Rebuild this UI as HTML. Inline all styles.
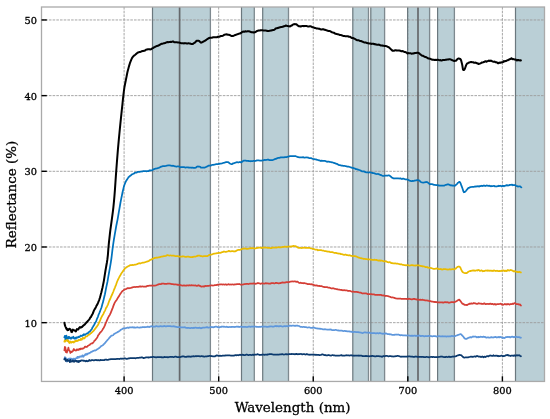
<!DOCTYPE html>
<html><head><meta charset="utf-8"><title>Reflectance spectra</title>
<style>html,body{margin:0;padding:0;background:#fff;}body{width:550px;height:419px;overflow:hidden;}svg{display:block;}</style>
</head><body>
<svg width="550" height="419" viewBox="0 0 550 419"><rect width="550" height="419" fill="#fff"/><g fill="#bacfd6"><rect x="152.50" y="7.0" width="27.10" height="374.45"/><rect x="179.60" y="7.0" width="30.80" height="374.45"/><rect x="241.50" y="7.0" width="12.80" height="374.45"/><rect x="262.70" y="7.0" width="25.80" height="374.45"/><rect x="352.80" y="7.0" width="15.70" height="374.45"/><rect x="370.80" y="7.0" width="13.80" height="374.45"/><rect x="407.60" y="7.0" width="10.40" height="374.45"/><rect x="418.00" y="7.0" width="11.60" height="374.45"/><rect x="437.60" y="7.0" width="16.80" height="374.45"/><rect x="515.50" y="7.0" width="29.00" height="374.45"/></g><g stroke="#9c9c9c" stroke-width="0.9" stroke-dasharray="2.6 1.1" fill="none"><line x1="124.10" y1="7.0" x2="124.10" y2="381.45"/><line x1="218.67" y1="7.0" x2="218.67" y2="381.45"/><line x1="313.25" y1="7.0" x2="313.25" y2="381.45"/><line x1="407.82" y1="7.0" x2="407.82" y2="381.45"/><line x1="502.40" y1="7.0" x2="502.40" y2="381.45"/><line x1="41.5" y1="322.66" x2="544.5" y2="322.66"/><line x1="41.5" y1="246.99" x2="544.5" y2="246.99"/><line x1="41.5" y1="171.31" x2="544.5" y2="171.31"/><line x1="41.5" y1="95.63" x2="544.5" y2="95.63"/><line x1="41.5" y1="19.96" x2="544.5" y2="19.96"/></g><g stroke="#6b787e" stroke-width="1.2"><line x1="152.50" y1="7.0" x2="152.50" y2="381.45"/><line x1="241.50" y1="7.0" x2="241.50" y2="381.45"/><line x1="262.70" y1="7.0" x2="262.70" y2="381.45"/><line x1="352.80" y1="7.0" x2="352.80" y2="381.45"/><line x1="370.80" y1="7.0" x2="370.80" y2="381.45"/><line x1="407.60" y1="7.0" x2="407.60" y2="381.45"/><line x1="437.60" y1="7.0" x2="437.60" y2="381.45"/><line x1="515.50" y1="7.0" x2="515.50" y2="381.45"/></g><g stroke="#7e898f" stroke-width="1.3"><line x1="210.40" y1="7.0" x2="210.40" y2="381.45"/><line x1="254.30" y1="7.0" x2="254.30" y2="381.45"/><line x1="288.50" y1="7.0" x2="288.50" y2="381.45"/><line x1="368.50" y1="7.0" x2="368.50" y2="381.45"/><line x1="384.60" y1="7.0" x2="384.60" y2="381.45"/><line x1="429.60" y1="7.0" x2="429.60" y2="381.45"/><line x1="454.40" y1="7.0" x2="454.40" y2="381.45"/></g><g stroke="#65686c" stroke-width="1.7"><line x1="179.60" y1="7.0" x2="179.60" y2="381.45"/><line x1="418.00" y1="7.0" x2="418.00" y2="381.45"/></g><g fill="none" stroke-width="1.75" stroke-linejoin="round" stroke-linecap="round"><path stroke="#5E97DC" d="M64.4 358.9 L64.9 357.2 L65.4 359.9 L65.9 358.1 L66.4 359.6 L66.9 361.6 L67.4 360.2 L67.9 359.4 L68.4 358.7 L68.9 359.6 L69.4 359.7 L69.9 358.4 L70.4 359.8 L70.9 358.6 L71.4 359.4 L71.9 358.8 L72.4 359.7 L72.9 359.4 L73.4 358.6 L73.9 358.6 L74.4 358.8 L74.9 359.3 L75.4 359.0 L75.9 358.3 L76.4 358.1 L76.9 358.3 L77.4 356.9 L77.9 357.8 L78.4 357.0 L78.9 357.6 L79.4 356.6 L79.9 356.8 L80.4 356.3 L80.9 356.4 L81.4 356.6 L81.9 356.6 L82.4 355.3 L82.9 355.5 L83.4 356.8 L83.9 355.8 L84.4 355.3 L84.9 355.1 L85.4 354.1 L85.9 354.9 L86.4 354.3 L86.9 353.8 L87.4 354.3 L87.9 353.7 L88.4 353.3 L88.9 353.4 L89.4 353.1 L89.9 352.8 L90.4 352.6 L90.9 352.1 L91.4 351.8 L91.9 351.7 L92.4 351.4 L92.9 351.1 L93.4 350.9 L93.9 350.7 L94.4 350.6 L94.9 350.3 L95.4 350.5 L95.9 350.2 L96.4 349.9 L96.9 349.5 L97.4 349.0 L97.9 349.0 L98.4 348.5 L98.9 348.2 L99.4 347.8 L99.9 347.4 L100.4 346.9 L100.9 346.3 L101.4 346.0 L101.9 345.7 L102.4 345.5 L102.9 345.3 L103.4 344.6 L103.9 344.0 L104.4 343.7 L104.9 343.1 L105.4 342.5 L105.9 341.9 L106.4 341.3 L106.9 340.7 L107.4 340.1 L107.9 339.5 L108.4 339.0 L108.9 338.4 L109.4 337.8 L109.9 337.2 L110.4 336.8 L110.9 336.1 L111.4 335.7 L111.9 335.6 L112.4 335.5 L112.9 335.3 L113.4 334.8 L113.9 334.2 L114.4 333.8 L114.9 333.6 L115.4 333.3 L115.9 333.0 L116.4 332.8 L116.9 332.5 L117.4 332.1 L117.9 331.9 L118.4 331.7 L118.9 331.3 L119.4 331.0 L119.9 330.6 L120.4 330.1 L120.9 329.8 L121.4 329.5 L121.9 329.3 L122.4 328.9 L122.9 328.5 L123.4 328.4 L123.9 328.2 L124.4 328.3 L124.9 328.4 L125.4 328.3 L125.9 328.1 L126.4 328.0 L126.9 327.7 L127.4 327.5 L127.9 327.6 L128.4 327.9 L128.9 327.8 L129.4 327.4 L129.9 327.4 L130.4 327.4 L130.9 327.3 L131.4 327.4 L131.9 327.4 L132.4 327.3 L132.9 327.2 L133.4 327.4 L133.9 327.6 L134.4 327.4 L134.9 327.6 L135.4 327.6 L135.9 327.6 L136.4 327.5 L136.9 327.3 L137.4 327.2 L137.9 327.4 L138.4 327.5 L138.9 327.6 L139.4 327.6 L139.9 327.6 L140.4 327.4 L140.9 327.3 L141.4 327.3 L141.9 327.3 L142.4 327.2 L142.9 327.0 L143.4 327.1 L143.9 327.1 L144.4 327.3 L144.9 327.1 L145.4 327.1 L145.9 327.0 L146.4 327.0 L146.9 326.9 L147.4 326.7 L147.9 326.6 L148.4 326.9 L148.9 327.0 L149.4 327.0 L149.9 326.7 L150.4 326.6 L150.9 326.4 L151.4 326.2 L151.9 326.3 L152.4 326.5 L152.9 326.6 L153.4 326.8 L153.9 326.6 L154.4 326.6 L154.9 326.7 L155.4 326.4 L155.9 326.2 L156.4 326.1 L156.9 326.2 L157.4 326.4 L157.9 326.5 L158.4 326.5 L158.9 326.4 L159.4 326.5 L159.9 326.3 L160.4 326.2 L160.9 326.2 L161.4 326.3 L161.9 326.4 L162.4 326.3 L162.9 326.3 L163.4 326.3 L163.9 326.0 L164.4 325.9 L164.9 326.2 L165.4 326.3 L165.9 326.3 L166.4 326.3 L166.9 326.2 L167.4 326.2 L167.9 326.2 L168.4 326.2 L168.9 326.1 L169.4 326.1 L169.9 326.1 L170.4 326.2 L170.9 326.3 L171.4 326.4 L171.9 326.4 L172.4 326.4 L172.9 326.4 L173.4 326.2 L173.9 326.3 L174.4 326.4 L174.9 326.6 L175.4 326.7 L175.9 326.8 L176.4 326.8 L176.9 327.0 L177.4 327.0 L177.9 327.0 L178.4 327.2 L178.9 327.2 L179.4 327.1 L179.9 327.2 L180.4 327.3 L180.9 327.3 L181.4 327.3 L181.9 327.3 L182.4 327.3 L182.9 327.3 L183.4 327.4 L183.9 327.4 L184.4 327.3 L184.9 327.2 L185.4 327.5 L185.9 327.8 L186.4 327.9 L186.9 327.9 L187.4 328.0 L187.9 327.8 L188.4 327.8 L188.9 327.9 L189.4 328.0 L189.9 328.0 L190.4 328.0 L190.9 328.0 L191.4 327.8 L191.9 327.8 L192.4 328.0 L192.9 328.1 L193.4 327.9 L193.9 327.7 L194.4 327.8 L194.9 327.8 L195.4 327.6 L195.9 327.7 L196.4 327.8 L196.9 327.9 L197.4 328.0 L197.9 327.9 L198.4 328.0 L198.9 327.8 L199.4 327.7 L199.9 327.8 L200.4 328.0 L200.9 328.3 L201.4 328.2 L201.9 327.9 L202.4 327.8 L202.9 327.6 L203.4 327.5 L203.9 327.5 L204.4 327.5 L204.9 327.6 L205.4 327.5 L205.9 327.4 L206.4 327.4 L206.9 327.1 L207.4 327.2 L207.9 327.5 L208.4 327.5 L208.9 327.6 L209.4 327.5 L209.9 327.3 L210.4 327.1 L210.9 326.9 L211.4 327.0 L211.9 327.3 L212.4 327.2 L212.9 327.2 L213.4 327.3 L213.9 327.2 L214.4 326.9 L214.9 326.8 L215.4 326.7 L215.9 326.6 L216.4 326.7 L216.9 326.8 L217.4 326.9 L217.9 327.2 L218.4 327.4 L218.9 327.6 L219.4 327.4 L219.9 327.0 L220.4 327.0 L220.9 326.8 L221.4 326.7 L221.9 326.8 L222.4 326.6 L222.9 326.6 L223.4 326.8 L223.9 326.7 L224.4 326.7 L224.9 326.9 L225.4 327.0 L225.9 326.9 L226.4 326.7 L226.9 326.8 L227.4 327.0 L227.9 327.2 L228.4 327.1 L228.9 327.1 L229.4 327.0 L229.9 326.9 L230.4 327.0 L230.9 327.1 L231.4 326.9 L231.9 326.9 L232.4 326.9 L232.9 326.8 L233.4 326.9 L233.9 327.0 L234.4 327.0 L234.9 326.8 L235.4 326.8 L235.9 326.8 L236.4 326.7 L236.9 326.6 L237.4 326.7 L237.9 326.8 L238.4 326.7 L238.9 326.8 L239.4 327.0 L239.9 326.8 L240.4 326.7 L240.9 326.7 L241.4 326.8 L241.9 327.1 L242.4 327.0 L242.9 326.8 L243.4 326.8 L243.9 326.8 L244.4 326.8 L244.9 326.8 L245.4 326.9 L245.9 326.9 L246.4 327.0 L246.9 327.1 L247.4 327.0 L247.9 326.8 L248.4 326.7 L248.9 326.6 L249.4 326.5 L249.9 326.7 L250.4 326.8 L250.9 326.8 L251.4 326.6 L251.9 326.6 L252.4 326.6 L252.9 326.5 L253.4 326.6 L253.9 326.6 L254.4 326.5 L254.9 326.5 L255.4 326.5 L255.9 326.5 L256.4 326.8 L256.9 326.9 L257.4 326.9 L257.9 326.8 L258.4 326.9 L258.9 327.0 L259.4 326.9 L259.9 326.7 L260.4 326.8 L260.9 326.8 L261.4 326.7 L261.9 326.7 L262.4 326.7 L262.9 326.6 L263.4 326.6 L263.9 326.7 L264.4 326.7 L264.9 326.7 L265.4 326.6 L265.9 326.6 L266.4 326.8 L266.9 326.9 L267.4 326.9 L267.9 326.9 L268.4 326.7 L268.9 326.6 L269.4 326.6 L269.9 326.4 L270.4 326.4 L270.9 326.5 L271.4 326.4 L271.9 326.5 L272.4 326.7 L272.9 326.6 L273.4 326.5 L273.9 326.5 L274.4 326.3 L274.9 326.2 L275.4 326.2 L275.9 326.0 L276.4 326.3 L276.9 326.2 L277.4 326.1 L277.9 326.3 L278.4 326.3 L278.9 326.2 L279.4 326.3 L279.9 326.2 L280.4 326.1 L280.9 326.0 L281.4 326.2 L281.9 326.4 L282.4 326.5 L282.9 326.5 L283.4 326.4 L283.9 326.3 L284.4 326.1 L284.9 326.2 L285.4 326.3 L285.9 326.2 L286.4 326.1 L286.9 326.1 L287.4 326.2 L287.9 326.3 L288.4 326.2 L288.9 326.0 L289.4 325.7 L289.9 325.6 L290.4 325.7 L290.9 325.8 L291.4 325.8 L291.9 325.7 L292.4 325.6 L292.9 325.7 L293.4 325.7 L293.9 325.6 L294.4 325.8 L294.9 325.9 L295.4 325.9 L295.9 325.6 L296.4 325.6 L296.9 325.8 L297.4 325.7 L297.9 325.7 L298.4 325.9 L298.9 326.0 L299.4 326.1 L299.9 326.5 L300.4 326.8 L300.9 326.9 L301.4 326.9 L301.9 326.9 L302.4 327.0 L302.9 327.0 L303.4 326.9 L303.9 326.8 L304.4 327.0 L304.9 327.0 L305.4 327.2 L305.9 327.2 L306.4 327.2 L306.9 327.4 L307.4 327.5 L307.9 327.5 L308.4 327.4 L308.9 327.3 L309.4 327.3 L309.9 327.5 L310.4 327.7 L310.9 327.9 L311.4 327.9 L311.9 327.8 L312.4 327.7 L312.9 327.8 L313.4 327.7 L313.9 327.6 L314.4 327.7 L314.9 328.0 L315.4 328.1 L315.9 328.3 L316.4 328.3 L316.9 328.3 L317.4 328.5 L317.9 328.7 L318.4 328.6 L318.9 328.7 L319.4 328.7 L319.9 328.8 L320.4 328.8 L320.9 328.7 L321.4 328.9 L321.9 329.0 L322.4 329.2 L322.9 329.3 L323.4 329.4 L323.9 329.3 L324.4 329.3 L324.9 329.2 L325.4 329.3 L325.9 329.4 L326.4 329.5 L326.9 329.6 L327.4 329.5 L327.9 329.5 L328.4 329.6 L328.9 329.6 L329.4 329.5 L329.9 329.7 L330.4 329.6 L330.9 329.4 L331.4 329.8 L331.9 330.1 L332.4 330.2 L332.9 330.1 L333.4 330.2 L333.9 330.1 L334.4 330.1 L334.9 330.0 L335.4 329.9 L335.9 329.9 L336.4 330.0 L336.9 330.2 L337.4 330.4 L337.9 330.3 L338.4 330.4 L338.9 330.6 L339.4 330.6 L339.9 330.7 L340.4 330.6 L340.9 330.6 L341.4 330.7 L341.9 330.7 L342.4 330.8 L342.9 331.0 L343.4 331.1 L343.9 331.0 L344.4 330.8 L344.9 330.9 L345.4 331.1 L345.9 331.0 L346.4 331.0 L346.9 331.3 L347.4 331.4 L347.9 331.3 L348.4 331.3 L348.9 331.3 L349.4 331.4 L349.9 331.6 L350.4 331.6 L350.9 331.8 L351.4 331.7 L351.9 331.8 L352.4 332.1 L352.9 332.1 L353.4 332.0 L353.9 332.0 L354.4 331.8 L354.9 331.8 L355.4 332.0 L355.9 332.1 L356.4 332.1 L356.9 332.2 L357.4 332.2 L357.9 332.1 L358.4 332.2 L358.9 332.3 L359.4 332.3 L359.9 332.4 L360.4 332.5 L360.9 332.5 L361.4 332.8 L361.9 333.0 L362.4 333.1 L362.9 333.0 L363.4 332.7 L363.9 332.5 L364.4 332.4 L364.9 332.3 L365.4 332.3 L365.9 332.6 L366.4 332.7 L366.9 332.6 L367.4 332.7 L367.9 332.6 L368.4 332.7 L368.9 332.6 L369.4 332.6 L369.9 332.9 L370.4 333.0 L370.9 333.0 L371.4 333.0 L371.9 333.0 L372.4 333.1 L372.9 333.1 L373.4 333.1 L373.9 333.0 L374.4 333.1 L374.9 333.2 L375.4 333.3 L375.9 333.3 L376.4 333.3 L376.9 333.2 L377.4 333.1 L377.9 333.3 L378.4 333.5 L378.9 333.4 L379.4 333.0 L379.9 333.1 L380.4 333.2 L380.9 333.3 L381.4 333.5 L381.9 333.6 L382.4 333.7 L382.9 333.8 L383.4 333.7 L383.9 333.7 L384.4 333.7 L384.9 333.6 L385.4 333.4 L385.9 333.4 L386.4 333.6 L386.9 333.8 L387.4 334.0 L387.9 334.0 L388.4 334.1 L388.9 334.2 L389.4 334.3 L389.9 334.2 L390.4 334.3 L390.9 334.3 L391.4 334.5 L391.9 334.8 L392.4 334.8 L392.9 334.8 L393.4 334.8 L393.9 334.9 L394.4 334.9 L394.9 334.6 L395.4 334.7 L395.9 334.6 L396.4 334.5 L396.9 334.6 L397.4 334.7 L397.9 334.6 L398.4 334.5 L398.9 334.7 L399.4 334.9 L399.9 335.2 L400.4 335.3 L400.9 335.2 L401.4 335.1 L401.9 335.1 L402.4 335.3 L402.9 335.3 L403.4 335.3 L403.9 335.4 L404.4 335.3 L404.9 335.3 L405.4 335.3 L405.9 335.5 L406.4 335.5 L406.9 335.4 L407.4 335.4 L407.9 335.4 L408.4 335.5 L408.9 335.7 L409.4 335.7 L409.9 335.7 L410.4 335.8 L410.9 335.8 L411.4 335.7 L411.9 335.8 L412.4 335.7 L412.9 335.8 L413.4 335.8 L413.9 335.7 L414.4 335.5 L414.9 335.5 L415.4 335.9 L415.9 336.0 L416.4 335.8 L416.9 335.7 L417.4 335.8 L417.9 335.7 L418.4 335.8 L418.9 335.6 L419.4 335.5 L419.9 335.6 L420.4 336.0 L420.9 336.0 L421.4 336.0 L421.9 335.8 L422.4 335.8 L422.9 335.9 L423.4 336.0 L423.9 336.3 L424.4 336.3 L424.9 336.2 L425.4 336.0 L425.9 336.1 L426.4 336.2 L426.9 336.2 L427.4 336.2 L427.9 336.1 L428.4 335.9 L428.9 335.9 L429.4 336.0 L429.9 335.9 L430.4 336.0 L430.9 336.2 L431.4 336.2 L431.9 336.3 L432.4 336.3 L432.9 336.3 L433.4 336.1 L433.9 336.1 L434.4 336.1 L434.9 336.2 L435.4 336.2 L435.9 336.3 L436.4 336.6 L436.9 336.5 L437.4 336.3 L437.9 336.3 L438.4 336.2 L438.9 336.1 L439.4 336.2 L439.9 336.3 L440.4 336.4 L440.9 336.3 L441.4 336.3 L441.9 336.3 L442.4 336.2 L442.9 336.4 L443.4 336.3 L443.9 336.3 L444.4 336.4 L444.9 336.4 L445.4 336.3 L445.9 336.4 L446.4 336.6 L446.9 336.5 L447.4 336.4 L447.9 336.4 L448.4 336.5 L448.9 336.4 L449.4 336.3 L449.9 336.3 L450.4 336.4 L450.9 336.3 L451.4 336.0 L451.9 335.9 L452.4 336.0 L452.9 336.0 L453.4 336.0 L453.9 336.2 L454.4 336.4 L454.9 336.2 L455.4 336.0 L455.9 335.7 L456.4 335.5 L456.9 335.4 L457.4 335.2 L457.9 334.9 L458.4 334.8 L458.9 334.7 L459.4 334.5 L459.9 334.3 L460.4 334.1 L460.9 334.3 L461.4 334.6 L461.9 335.2 L462.4 335.6 L462.9 336.2 L463.4 336.8 L463.9 337.5 L464.4 338.2 L464.9 338.6 L465.4 338.8 L465.9 338.9 L466.4 338.9 L466.9 338.6 L467.4 338.5 L467.9 338.1 L468.4 337.8 L468.9 337.7 L469.4 337.6 L469.9 337.3 L470.4 337.1 L470.9 337.4 L471.4 337.5 L471.9 337.2 L472.4 336.7 L472.9 336.6 L473.4 336.8 L473.9 336.5 L474.4 336.5 L474.9 336.6 L475.4 336.5 L475.9 336.7 L476.4 337.2 L476.9 337.4 L477.4 337.1 L477.9 337.0 L478.4 337.3 L478.9 336.9 L479.4 337.2 L479.9 337.0 L480.4 336.7 L480.9 336.8 L481.4 336.8 L481.9 337.0 L482.4 337.1 L482.9 336.8 L483.4 336.7 L483.9 336.7 L484.4 337.0 L484.9 336.9 L485.4 337.1 L485.9 337.5 L486.4 337.7 L486.9 337.6 L487.4 337.3 L487.9 337.4 L488.4 337.4 L488.9 337.6 L489.4 337.7 L489.9 337.7 L490.4 337.5 L490.9 337.2 L491.4 337.1 L491.9 337.4 L492.4 337.5 L492.9 337.3 L493.4 337.5 L493.9 337.3 L494.4 337.2 L494.9 337.1 L495.4 336.9 L495.9 337.0 L496.4 337.5 L496.9 337.3 L497.4 337.3 L497.9 337.2 L498.4 336.9 L498.9 337.3 L499.4 337.3 L499.9 336.8 L500.4 337.1 L500.9 337.1 L501.4 337.2 L501.9 337.8 L502.4 338.0 L502.9 337.5 L503.4 337.6 L503.9 338.0 L504.4 338.0 L504.9 337.7 L505.4 337.4 L505.9 337.1 L506.4 337.0 L506.9 337.1 L507.4 336.9 L507.9 337.0 L508.4 337.0 L508.9 336.8 L509.4 336.9 L509.9 337.3 L510.4 337.4 L510.9 337.1 L511.4 336.7 L511.9 336.9 L512.4 336.7 L512.9 336.7 L513.4 337.0 L513.9 337.3 L514.4 337.1 L514.9 336.9 L515.4 336.8 L515.9 336.7 L516.4 336.8 L516.9 337.0 L517.4 337.1 L517.9 337.2 L518.4 337.2 L518.9 337.1 L519.4 337.1 L519.9 337.5 L520.4 337.8 L520.9 337.6"/><path stroke="#0B3A6E" d="M64.4 359.4 L64.9 358.3 L65.4 359.0 L65.9 361.0 L66.4 360.5 L66.9 360.7 L67.4 359.7 L67.9 361.0 L68.4 360.7 L68.9 360.7 L69.4 360.6 L69.9 362.2 L70.4 359.8 L70.9 360.9 L71.4 361.2 L71.9 361.7 L72.4 361.1 L72.9 360.3 L73.4 361.0 L73.9 361.9 L74.4 361.6 L74.9 360.6 L75.4 360.8 L75.9 360.7 L76.4 361.6 L76.9 360.8 L77.4 361.6 L77.9 361.9 L78.4 361.0 L78.9 362.0 L79.4 361.1 L79.9 360.9 L80.4 361.2 L80.9 360.5 L81.4 360.6 L81.9 360.3 L82.4 360.5 L82.9 360.7 L83.4 360.5 L83.9 361.0 L84.4 360.8 L84.9 360.7 L85.4 361.3 L85.9 361.3 L86.4 360.7 L86.9 361.2 L87.4 361.3 L87.9 361.0 L88.4 361.0 L88.9 360.4 L89.4 360.0 L89.9 360.6 L90.4 360.5 L90.9 360.6 L91.4 360.2 L91.9 360.2 L92.4 360.1 L92.9 360.2 L93.4 360.3 L93.9 360.3 L94.4 360.3 L94.9 360.0 L95.4 360.0 L95.9 359.9 L96.4 360.1 L96.9 360.3 L97.4 360.3 L97.9 360.0 L98.4 360.0 L98.9 360.4 L99.4 360.3 L99.9 360.3 L100.4 359.9 L100.9 360.1 L101.4 360.0 L101.9 360.0 L102.4 360.1 L102.9 360.1 L103.4 360.1 L103.9 360.1 L104.4 360.1 L104.9 359.7 L105.4 359.6 L105.9 359.6 L106.4 359.6 L106.9 359.9 L107.4 359.9 L107.9 359.9 L108.4 359.7 L108.9 359.4 L109.4 359.4 L109.9 359.4 L110.4 359.2 L110.9 359.2 L111.4 359.2 L111.9 359.1 L112.4 359.2 L112.9 359.2 L113.4 359.2 L113.9 359.2 L114.4 359.2 L114.9 359.2 L115.4 359.2 L115.9 359.2 L116.4 359.0 L116.9 358.8 L117.4 358.9 L117.9 359.0 L118.4 358.9 L118.9 359.0 L119.4 359.1 L119.9 358.8 L120.4 358.7 L120.9 358.7 L121.4 358.7 L121.9 358.8 L122.4 358.7 L122.9 358.6 L123.4 358.5 L123.9 358.5 L124.4 358.4 L124.9 358.3 L125.4 358.4 L125.9 358.7 L126.4 358.8 L126.9 358.8 L127.4 358.8 L127.9 358.6 L128.4 358.4 L128.9 358.3 L129.4 358.3 L129.9 358.2 L130.4 358.2 L130.9 358.2 L131.4 358.1 L131.9 358.2 L132.4 358.2 L132.9 358.2 L133.4 358.2 L133.9 358.2 L134.4 358.2 L134.9 358.2 L135.4 358.3 L135.9 358.2 L136.4 358.0 L136.9 357.9 L137.4 357.9 L137.9 357.9 L138.4 357.9 L138.9 357.8 L139.4 357.7 L139.9 357.5 L140.4 357.5 L140.9 357.6 L141.4 357.4 L141.9 357.4 L142.4 357.4 L142.9 357.7 L143.4 358.1 L143.9 357.9 L144.4 358.0 L144.9 357.9 L145.4 357.5 L145.9 357.4 L146.4 357.4 L146.9 357.4 L147.4 357.3 L147.9 357.4 L148.4 357.6 L148.9 357.4 L149.4 357.4 L149.9 357.4 L150.4 357.2 L150.9 357.1 L151.4 357.1 L151.9 357.1 L152.4 357.1 L152.9 356.9 L153.4 356.9 L153.9 357.0 L154.4 357.1 L154.9 357.1 L155.4 357.2 L155.9 357.4 L156.4 357.3 L156.9 357.2 L157.4 357.1 L157.9 357.1 L158.4 357.1 L158.9 357.1 L159.4 357.0 L159.9 357.0 L160.4 357.0 L160.9 357.1 L161.4 357.3 L161.9 357.2 L162.4 357.3 L162.9 357.3 L163.4 357.3 L163.9 357.2 L164.4 356.9 L164.9 357.1 L165.4 357.2 L165.9 357.1 L166.4 357.1 L166.9 357.1 L167.4 357.1 L167.9 357.4 L168.4 357.2 L168.9 357.1 L169.4 357.0 L169.9 356.9 L170.4 356.9 L170.9 356.9 L171.4 357.0 L171.9 356.9 L172.4 356.9 L172.9 357.0 L173.4 357.0 L173.9 357.0 L174.4 356.9 L174.9 356.7 L175.4 356.6 L175.9 356.7 L176.4 356.8 L176.9 357.0 L177.4 357.2 L177.9 357.2 L178.4 357.1 L178.9 357.0 L179.4 357.1 L179.9 357.0 L180.4 357.0 L180.9 356.8 L181.4 356.7 L181.9 356.6 L182.4 356.4 L182.9 356.3 L183.4 356.4 L183.9 356.4 L184.4 356.7 L184.9 356.8 L185.4 356.8 L185.9 356.9 L186.4 356.9 L186.9 356.6 L187.4 356.5 L187.9 356.7 L188.4 356.6 L188.9 356.4 L189.4 356.6 L189.9 356.7 L190.4 356.7 L190.9 356.8 L191.4 356.6 L191.9 356.4 L192.4 356.4 L192.9 356.3 L193.4 356.2 L193.9 356.3 L194.4 356.3 L194.9 356.3 L195.4 356.2 L195.9 356.2 L196.4 356.3 L196.9 356.1 L197.4 356.1 L197.9 356.2 L198.4 356.2 L198.9 356.1 L199.4 356.2 L199.9 356.4 L200.4 356.4 L200.9 356.3 L201.4 356.1 L201.9 356.1 L202.4 356.3 L202.9 356.4 L203.4 356.4 L203.9 356.6 L204.4 356.5 L204.9 356.5 L205.4 356.4 L205.9 356.5 L206.4 356.4 L206.9 356.5 L207.4 356.3 L207.9 356.1 L208.4 356.0 L208.9 356.0 L209.4 355.8 L209.9 355.8 L210.4 356.0 L210.9 356.2 L211.4 356.2 L211.9 356.0 L212.4 356.2 L212.9 356.4 L213.4 356.4 L213.9 356.4 L214.4 356.3 L214.9 356.4 L215.4 356.1 L215.9 355.7 L216.4 355.4 L216.9 355.4 L217.4 355.6 L217.9 355.6 L218.4 355.7 L218.9 355.9 L219.4 355.7 L219.9 355.8 L220.4 355.8 L220.9 355.7 L221.4 355.9 L221.9 355.8 L222.4 355.7 L222.9 355.7 L223.4 355.6 L223.9 355.6 L224.4 355.7 L224.9 355.7 L225.4 355.4 L225.9 355.4 L226.4 355.5 L226.9 355.4 L227.4 355.4 L227.9 355.4 L228.4 355.3 L228.9 355.4 L229.4 355.4 L229.9 355.4 L230.4 355.5 L230.9 355.5 L231.4 355.7 L231.9 355.7 L232.4 355.6 L232.9 355.7 L233.4 355.7 L233.9 355.6 L234.4 355.4 L234.9 355.3 L235.4 355.2 L235.9 355.2 L236.4 355.3 L236.9 355.2 L237.4 355.1 L237.9 355.2 L238.4 355.3 L238.9 355.1 L239.4 355.0 L239.9 354.7 L240.4 354.8 L240.9 355.1 L241.4 355.0 L241.9 354.9 L242.4 354.7 L242.9 354.7 L243.4 354.9 L243.9 355.1 L244.4 355.2 L244.9 355.2 L245.4 355.0 L245.9 354.7 L246.4 354.5 L246.9 354.6 L247.4 354.8 L247.9 355.0 L248.4 355.0 L248.9 355.0 L249.4 354.8 L249.9 354.8 L250.4 354.8 L250.9 354.9 L251.4 355.0 L251.9 355.0 L252.4 354.9 L252.9 354.6 L253.4 354.7 L253.9 355.0 L254.4 354.8 L254.9 354.6 L255.4 354.6 L255.9 354.7 L256.4 354.6 L256.9 354.5 L257.4 354.2 L257.9 354.2 L258.4 354.5 L258.9 354.7 L259.4 354.8 L259.9 355.0 L260.4 354.9 L260.9 354.9 L261.4 354.8 L261.9 354.7 L262.4 354.6 L262.9 354.8 L263.4 354.6 L263.9 354.7 L264.4 354.8 L264.9 354.8 L265.4 354.5 L265.9 354.5 L266.4 354.6 L266.9 354.8 L267.4 354.7 L267.9 354.3 L268.4 354.3 L268.9 354.3 L269.4 354.2 L269.9 354.2 L270.4 354.2 L270.9 354.2 L271.4 354.1 L271.9 354.3 L272.4 354.3 L272.9 354.5 L273.4 354.6 L273.9 354.6 L274.4 354.6 L274.9 354.7 L275.4 354.6 L275.9 354.6 L276.4 354.6 L276.9 354.6 L277.4 354.5 L277.9 354.6 L278.4 354.7 L278.9 354.7 L279.4 354.5 L279.9 354.3 L280.4 354.4 L280.9 354.4 L281.4 354.3 L281.9 354.2 L282.4 354.2 L282.9 354.3 L283.4 354.5 L283.9 354.6 L284.4 354.5 L284.9 354.4 L285.4 354.2 L285.9 354.2 L286.4 354.3 L286.9 354.2 L287.4 354.3 L287.9 354.3 L288.4 354.3 L288.9 354.2 L289.4 354.1 L289.9 354.0 L290.4 354.1 L290.9 354.2 L291.4 354.1 L291.9 353.9 L292.4 354.0 L292.9 354.1 L293.4 354.0 L293.9 354.1 L294.4 354.2 L294.9 354.3 L295.4 354.2 L295.9 353.9 L296.4 353.9 L296.9 354.1 L297.4 354.2 L297.9 354.3 L298.4 354.2 L298.9 354.2 L299.4 354.0 L299.9 354.1 L300.4 354.0 L300.9 353.9 L301.4 354.0 L301.9 354.3 L302.4 354.4 L302.9 354.2 L303.4 354.1 L303.9 354.2 L304.4 354.2 L304.9 354.3 L305.4 354.5 L305.9 354.6 L306.4 354.3 L306.9 354.0 L307.4 354.2 L307.9 354.5 L308.4 354.5 L308.9 354.6 L309.4 354.7 L309.9 354.8 L310.4 354.7 L310.9 354.6 L311.4 354.6 L311.9 354.7 L312.4 354.7 L312.9 354.7 L313.4 354.6 L313.9 354.6 L314.4 354.7 L314.9 354.8 L315.4 354.8 L315.9 354.7 L316.4 354.8 L316.9 354.8 L317.4 354.8 L317.9 354.8 L318.4 354.8 L318.9 355.0 L319.4 355.2 L319.9 355.1 L320.4 355.0 L320.9 354.9 L321.4 354.7 L321.9 354.4 L322.4 354.3 L322.9 354.4 L323.4 354.7 L323.9 354.9 L324.4 355.1 L324.9 355.1 L325.4 355.0 L325.9 355.3 L326.4 355.4 L326.9 355.3 L327.4 355.3 L327.9 355.2 L328.4 355.0 L328.9 355.1 L329.4 355.3 L329.9 355.4 L330.4 355.5 L330.9 355.5 L331.4 355.5 L331.9 355.3 L332.4 355.1 L332.9 355.2 L333.4 355.3 L333.9 355.3 L334.4 355.3 L334.9 355.5 L335.4 355.5 L335.9 355.5 L336.4 355.5 L336.9 355.6 L337.4 355.7 L337.9 355.7 L338.4 355.7 L338.9 355.6 L339.4 355.6 L339.9 355.5 L340.4 355.4 L340.9 355.3 L341.4 355.1 L341.9 355.4 L342.4 355.7 L342.9 355.7 L343.4 355.6 L343.9 355.7 L344.4 355.7 L344.9 355.6 L345.4 355.5 L345.9 355.3 L346.4 355.2 L346.9 355.4 L347.4 355.4 L347.9 355.3 L348.4 355.3 L348.9 355.4 L349.4 355.6 L349.9 355.5 L350.4 355.4 L350.9 355.2 L351.4 355.3 L351.9 355.4 L352.4 355.6 L352.9 355.6 L353.4 355.6 L353.9 355.8 L354.4 355.7 L354.9 355.6 L355.4 355.5 L355.9 355.5 L356.4 355.6 L356.9 355.6 L357.4 355.7 L357.9 355.6 L358.4 355.5 L358.9 355.8 L359.4 355.7 L359.9 355.6 L360.4 355.6 L360.9 355.6 L361.4 355.7 L361.9 355.8 L362.4 356.1 L362.9 356.2 L363.4 356.1 L363.9 356.1 L364.4 356.1 L364.9 356.2 L365.4 356.1 L365.9 355.9 L366.4 355.9 L366.9 356.2 L367.4 356.1 L367.9 356.1 L368.4 356.1 L368.9 356.3 L369.4 356.3 L369.9 356.2 L370.4 356.0 L370.9 356.0 L371.4 356.1 L371.9 355.9 L372.4 355.8 L372.9 356.1 L373.4 356.1 L373.9 356.1 L374.4 356.3 L374.9 356.3 L375.4 356.3 L375.9 356.3 L376.4 356.2 L376.9 356.0 L377.4 356.1 L377.9 356.2 L378.4 356.2 L378.9 356.1 L379.4 356.3 L379.9 356.3 L380.4 356.4 L380.9 356.3 L381.4 356.6 L381.9 356.8 L382.4 356.7 L382.9 356.2 L383.4 356.0 L383.9 356.2 L384.4 356.3 L384.9 356.2 L385.4 356.0 L385.9 355.8 L386.4 355.8 L386.9 355.8 L387.4 356.0 L387.9 356.2 L388.4 356.4 L388.9 356.3 L389.4 356.1 L389.9 356.1 L390.4 356.1 L390.9 356.2 L391.4 356.3 L391.9 356.3 L392.4 356.4 L392.9 356.5 L393.4 356.5 L393.9 356.4 L394.4 356.3 L394.9 356.3 L395.4 356.3 L395.9 356.1 L396.4 356.0 L396.9 356.0 L397.4 355.9 L397.9 355.9 L398.4 356.0 L398.9 356.1 L399.4 356.3 L399.9 356.5 L400.4 356.6 L400.9 356.8 L401.4 356.7 L401.9 356.7 L402.4 356.7 L402.9 356.7 L403.4 356.6 L403.9 356.6 L404.4 356.6 L404.9 356.6 L405.4 356.7 L405.9 356.7 L406.4 356.7 L406.9 356.6 L407.4 356.6 L407.9 356.4 L408.4 356.5 L408.9 356.4 L409.4 356.3 L409.9 356.4 L410.4 356.5 L410.9 356.5 L411.4 356.5 L411.9 356.5 L412.4 356.6 L412.9 356.8 L413.4 356.9 L413.9 356.9 L414.4 356.8 L414.9 356.7 L415.4 356.7 L415.9 356.5 L416.4 356.6 L416.9 356.7 L417.4 356.9 L417.9 356.9 L418.4 356.8 L418.9 356.7 L419.4 356.9 L419.9 356.9 L420.4 356.8 L420.9 356.8 L421.4 357.0 L421.9 356.9 L422.4 356.8 L422.9 356.8 L423.4 357.0 L423.9 357.2 L424.4 357.1 L424.9 357.1 L425.4 357.0 L425.9 357.0 L426.4 356.9 L426.9 356.9 L427.4 357.0 L427.9 357.1 L428.4 357.2 L428.9 357.3 L429.4 357.3 L429.9 357.1 L430.4 357.0 L430.9 356.9 L431.4 356.8 L431.9 357.0 L432.4 357.2 L432.9 356.9 L433.4 356.9 L433.9 357.0 L434.4 357.1 L434.9 357.1 L435.4 357.1 L435.9 357.1 L436.4 357.1 L436.9 357.0 L437.4 357.1 L437.9 357.2 L438.4 357.0 L438.9 356.9 L439.4 356.8 L439.9 356.8 L440.4 356.7 L440.9 356.7 L441.4 356.5 L441.9 356.6 L442.4 356.7 L442.9 356.8 L443.4 357.0 L443.9 357.1 L444.4 357.1 L444.9 357.0 L445.4 357.1 L445.9 356.9 L446.4 356.7 L446.9 356.9 L447.4 357.0 L447.9 357.0 L448.4 356.9 L448.9 356.6 L449.4 356.7 L449.9 357.0 L450.4 357.0 L450.9 356.8 L451.4 356.9 L451.9 356.8 L452.4 356.6 L452.9 356.5 L453.4 356.7 L453.9 356.6 L454.4 356.5 L454.9 356.4 L455.4 356.4 L455.9 356.3 L456.4 356.1 L456.9 355.7 L457.4 355.5 L457.9 355.3 L458.4 355.3 L458.9 355.0 L459.4 354.8 L459.9 355.1 L460.4 355.2 L460.9 355.2 L461.4 355.3 L461.9 355.9 L462.4 356.4 L462.9 356.8 L463.4 357.3 L463.9 357.6 L464.4 357.6 L464.9 357.5 L465.4 357.4 L465.9 357.4 L466.4 357.3 L466.9 357.4 L467.4 357.4 L467.9 357.4 L468.4 357.3 L468.9 357.1 L469.4 357.0 L469.9 356.9 L470.4 356.7 L470.9 356.7 L471.4 356.7 L471.9 356.8 L472.4 356.7 L472.9 356.9 L473.4 356.7 L473.9 356.5 L474.4 356.4 L474.9 356.5 L475.4 356.8 L475.9 356.6 L476.4 356.2 L476.9 355.9 L477.4 356.0 L477.9 356.3 L478.4 356.6 L478.9 356.6 L479.4 356.6 L479.9 356.5 L480.4 356.8 L480.9 357.1 L481.4 357.0 L481.9 356.6 L482.4 356.5 L482.9 356.9 L483.4 357.3 L483.9 357.0 L484.4 356.7 L484.9 356.6 L485.4 357.0 L485.9 356.7 L486.4 356.4 L486.9 356.2 L487.4 356.1 L487.9 356.3 L488.4 356.4 L488.9 356.1 L489.4 355.6 L489.9 355.6 L490.4 355.7 L490.9 355.5 L491.4 355.7 L491.9 355.9 L492.4 355.9 L492.9 355.9 L493.4 355.2 L493.9 355.5 L494.4 355.7 L494.9 355.9 L495.4 355.8 L495.9 355.6 L496.4 355.7 L496.9 355.8 L497.4 356.1 L497.9 355.7 L498.4 356.0 L498.9 356.3 L499.4 356.1 L499.9 356.1 L500.4 356.0 L500.9 355.8 L501.4 355.6 L501.9 355.8 L502.4 356.1 L502.9 356.3 L503.4 356.0 L503.9 356.2 L504.4 356.0 L504.9 355.8 L505.4 355.6 L505.9 355.4 L506.4 355.0 L506.9 355.0 L507.4 355.3 L507.9 355.0 L508.4 355.4 L508.9 355.6 L509.4 355.5 L509.9 355.5 L510.4 356.0 L510.9 355.7 L511.4 355.5 L511.9 355.5 L512.4 355.5 L512.9 355.6 L513.4 355.9 L513.9 355.7 L514.4 355.3 L514.9 355.7 L515.4 355.9 L515.9 355.7 L516.4 355.2 L516.9 355.4 L517.4 355.2 L517.9 355.5 L518.4 355.4 L518.9 355.2 L519.4 355.3 L519.9 355.7 L520.4 356.0 L520.9 356.3"/><path stroke="#D43E36" d="M64.4 350.4 L64.9 346.8 L65.4 347.7 L65.9 352.1 L66.4 350.5 L66.9 352.6 L67.4 350.4 L67.9 349.7 L68.4 347.7 L68.9 349.9 L69.4 350.9 L69.9 351.0 L70.4 353.0 L70.9 351.8 L71.4 351.6 L71.9 352.0 L72.4 351.4 L72.9 351.1 L73.4 349.9 L73.9 349.0 L74.4 350.1 L74.9 350.1 L75.4 350.5 L75.9 350.6 L76.4 350.1 L76.9 349.3 L77.4 349.8 L77.9 350.0 L78.4 349.3 L78.9 349.9 L79.4 349.1 L79.9 348.8 L80.4 349.2 L80.9 348.5 L81.4 348.9 L81.9 348.7 L82.4 348.4 L82.9 348.8 L83.4 348.2 L83.9 348.0 L84.4 347.6 L84.9 346.6 L85.4 346.6 L85.9 346.9 L86.4 346.8 L86.9 347.0 L87.4 346.5 L87.9 345.7 L88.4 345.5 L88.9 345.2 L89.4 345.0 L89.9 344.7 L90.4 344.0 L90.9 343.8 L91.4 343.5 L91.9 343.3 L92.4 343.3 L92.9 342.8 L93.4 342.4 L93.9 341.6 L94.4 340.7 L94.9 340.5 L95.4 339.9 L95.9 339.3 L96.4 338.5 L96.9 338.0 L97.4 337.1 L97.9 335.9 L98.4 335.0 L98.9 334.5 L99.4 333.8 L99.9 332.8 L100.4 332.3 L100.9 331.8 L101.4 331.3 L101.9 330.7 L102.4 329.9 L102.9 329.0 L103.4 328.3 L103.9 327.5 L104.4 326.4 L104.9 325.4 L105.4 323.9 L105.9 322.7 L106.4 321.6 L106.9 320.4 L107.4 319.3 L107.9 318.2 L108.4 317.2 L108.9 316.3 L109.4 315.6 L109.9 314.7 L110.4 313.7 L110.9 312.4 L111.4 311.2 L111.9 309.9 L112.4 308.7 L112.9 307.4 L113.4 305.9 L113.9 304.7 L114.4 303.4 L114.9 302.4 L115.4 301.6 L115.9 300.9 L116.4 300.3 L116.9 299.5 L117.4 298.6 L117.9 297.8 L118.4 297.1 L118.9 296.3 L119.4 295.4 L119.9 294.6 L120.4 293.8 L120.9 293.1 L121.4 292.4 L121.9 291.6 L122.4 291.1 L122.9 290.7 L123.4 290.4 L123.9 289.9 L124.4 289.6 L124.9 289.4 L125.4 289.2 L125.9 289.0 L126.4 288.9 L126.9 288.6 L127.4 288.2 L127.9 288.1 L128.4 288.2 L128.9 288.3 L129.4 288.2 L129.9 288.0 L130.4 288.0 L130.9 287.9 L131.4 287.7 L131.9 287.6 L132.4 287.4 L132.9 287.2 L133.4 287.2 L133.9 287.2 L134.4 287.0 L134.9 286.9 L135.4 287.0 L135.9 287.0 L136.4 286.9 L136.9 286.9 L137.4 286.9 L137.9 286.9 L138.4 286.8 L138.9 286.7 L139.4 286.6 L139.9 286.4 L140.4 286.4 L140.9 286.6 L141.4 286.7 L141.9 286.5 L142.4 286.4 L142.9 286.5 L143.4 286.5 L143.9 286.7 L144.4 286.7 L144.9 286.6 L145.4 286.7 L145.9 286.7 L146.4 286.4 L146.9 286.1 L147.4 285.9 L147.9 285.9 L148.4 285.9 L148.9 285.7 L149.4 285.7 L149.9 285.6 L150.4 285.7 L150.9 285.7 L151.4 285.5 L151.9 285.6 L152.4 285.6 L152.9 285.8 L153.4 285.6 L153.9 285.5 L154.4 285.5 L154.9 285.5 L155.4 285.5 L155.9 285.4 L156.4 285.2 L156.9 285.0 L157.4 284.7 L157.9 284.7 L158.4 284.5 L158.9 284.1 L159.4 284.0 L159.9 284.0 L160.4 284.2 L160.9 284.2 L161.4 284.0 L161.9 283.5 L162.4 283.6 L162.9 283.7 L163.4 283.6 L163.9 283.7 L164.4 283.8 L164.9 283.9 L165.4 283.9 L165.9 283.8 L166.4 283.9 L166.9 283.8 L167.4 283.7 L167.9 283.6 L168.4 283.7 L168.9 283.7 L169.4 283.7 L169.9 283.6 L170.4 283.8 L170.9 283.8 L171.4 284.0 L171.9 284.0 L172.4 284.0 L172.9 284.1 L173.4 284.3 L173.9 284.4 L174.4 284.4 L174.9 284.5 L175.4 284.4 L175.9 284.3 L176.4 284.5 L176.9 284.7 L177.4 284.8 L177.9 284.6 L178.4 284.9 L178.9 285.0 L179.4 285.0 L179.9 284.9 L180.4 285.0 L180.9 285.3 L181.4 285.4 L181.9 285.5 L182.4 285.5 L182.9 285.6 L183.4 285.6 L183.9 285.3 L184.4 285.4 L184.9 285.7 L185.4 285.6 L185.9 285.7 L186.4 285.6 L186.9 285.4 L187.4 285.4 L187.9 285.5 L188.4 285.6 L188.9 285.3 L189.4 285.2 L189.9 285.4 L190.4 285.5 L190.9 285.3 L191.4 285.2 L191.9 285.3 L192.4 285.3 L192.9 285.4 L193.4 285.4 L193.9 285.5 L194.4 285.5 L194.9 285.4 L195.4 285.4 L195.9 285.6 L196.4 285.8 L196.9 285.9 L197.4 285.8 L197.9 285.6 L198.4 285.2 L198.9 285.4 L199.4 285.8 L199.9 285.9 L200.4 286.1 L200.9 286.4 L201.4 286.6 L201.9 286.6 L202.4 286.5 L202.9 286.3 L203.4 286.4 L203.9 286.6 L204.4 286.4 L204.9 286.1 L205.4 285.9 L205.9 286.0 L206.4 286.0 L206.9 285.9 L207.4 285.9 L207.9 286.0 L208.4 285.9 L208.9 285.8 L209.4 285.7 L209.9 285.6 L210.4 285.6 L210.9 285.5 L211.4 285.4 L211.9 285.3 L212.4 285.5 L212.9 285.6 L213.4 285.5 L213.9 285.4 L214.4 285.2 L214.9 285.1 L215.4 285.2 L215.9 285.2 L216.4 285.1 L216.9 284.8 L217.4 284.7 L217.9 284.8 L218.4 284.7 L218.9 284.6 L219.4 284.5 L219.9 284.3 L220.4 284.4 L220.9 284.5 L221.4 284.4 L221.9 284.3 L222.4 284.5 L222.9 284.5 L223.4 284.4 L223.9 284.5 L224.4 284.5 L224.9 284.5 L225.4 284.3 L225.9 284.4 L226.4 284.7 L226.9 284.8 L227.4 284.6 L227.9 284.5 L228.4 284.2 L228.9 284.3 L229.4 284.5 L229.9 284.5 L230.4 284.5 L230.9 284.4 L231.4 284.5 L231.9 284.5 L232.4 284.4 L232.9 284.5 L233.4 284.6 L233.9 284.5 L234.4 284.6 L234.9 284.3 L235.4 284.3 L235.9 284.3 L236.4 284.3 L236.9 284.1 L237.4 284.1 L237.9 284.1 L238.4 284.1 L238.9 284.1 L239.4 284.0 L239.9 284.3 L240.4 284.5 L240.9 284.5 L241.4 284.5 L241.9 284.6 L242.4 284.6 L242.9 284.5 L243.4 284.3 L243.9 284.3 L244.4 284.1 L244.9 284.0 L245.4 284.0 L245.9 283.9 L246.4 283.9 L246.9 284.0 L247.4 283.9 L247.9 283.9 L248.4 284.0 L248.9 284.0 L249.4 283.8 L249.9 283.6 L250.4 283.6 L250.9 283.6 L251.4 283.6 L251.9 283.6 L252.4 283.7 L252.9 283.7 L253.4 283.4 L253.9 283.4 L254.4 283.5 L254.9 283.7 L255.4 283.8 L255.9 283.7 L256.4 283.6 L256.9 283.5 L257.4 283.1 L257.9 283.0 L258.4 283.1 L258.9 283.3 L259.4 283.4 L259.9 283.5 L260.4 283.8 L260.9 283.8 L261.4 283.5 L261.9 283.3 L262.4 283.3 L262.9 283.4 L263.4 283.5 L263.9 283.7 L264.4 283.7 L264.9 283.5 L265.4 283.3 L265.9 283.1 L266.4 283.4 L266.9 283.5 L267.4 283.3 L267.9 283.3 L268.4 283.5 L268.9 283.5 L269.4 283.6 L269.9 283.7 L270.4 283.6 L270.9 283.4 L271.4 283.1 L271.9 283.2 L272.4 283.2 L272.9 283.2 L273.4 283.2 L273.9 283.3 L274.4 283.3 L274.9 283.3 L275.4 283.1 L275.9 282.8 L276.4 282.8 L276.9 283.1 L277.4 283.2 L277.9 283.2 L278.4 283.3 L278.9 283.4 L279.4 283.2 L279.9 283.2 L280.4 283.1 L280.9 282.9 L281.4 282.8 L281.9 282.6 L282.4 282.4 L282.9 282.5 L283.4 282.7 L283.9 282.6 L284.4 282.6 L284.9 282.6 L285.4 282.4 L285.9 282.3 L286.4 282.2 L286.9 282.2 L287.4 282.2 L287.9 282.3 L288.4 282.2 L288.9 282.2 L289.4 282.0 L289.9 281.7 L290.4 281.5 L290.9 281.5 L291.4 281.5 L291.9 281.4 L292.4 281.4 L292.9 281.5 L293.4 281.5 L293.9 281.4 L294.4 281.4 L294.9 281.3 L295.4 281.6 L295.9 281.7 L296.4 281.8 L296.9 281.7 L297.4 281.6 L297.9 281.9 L298.4 282.4 L298.9 282.8 L299.4 283.0 L299.9 282.9 L300.4 282.7 L300.9 282.8 L301.4 283.0 L301.9 283.2 L302.4 283.2 L302.9 283.2 L303.4 283.2 L303.9 283.3 L304.4 283.1 L304.9 283.2 L305.4 283.4 L305.9 283.5 L306.4 283.6 L306.9 283.8 L307.4 284.1 L307.9 284.1 L308.4 284.0 L308.9 284.1 L309.4 284.1 L309.9 284.0 L310.4 284.2 L310.9 284.4 L311.4 284.2 L311.9 284.3 L312.4 284.6 L312.9 284.7 L313.4 284.8 L313.9 284.9 L314.4 285.2 L314.9 285.5 L315.4 285.5 L315.9 285.3 L316.4 285.4 L316.9 285.6 L317.4 285.6 L317.9 285.9 L318.4 286.0 L318.9 285.9 L319.4 285.9 L319.9 286.1 L320.4 286.1 L320.9 286.1 L321.4 286.1 L321.9 286.2 L322.4 286.5 L322.9 286.7 L323.4 286.9 L323.9 286.9 L324.4 287.1 L324.9 287.0 L325.4 287.0 L325.9 287.1 L326.4 287.2 L326.9 287.2 L327.4 287.2 L327.9 287.5 L328.4 287.7 L328.9 287.7 L329.4 287.7 L329.9 287.8 L330.4 288.0 L330.9 288.3 L331.4 288.5 L331.9 288.4 L332.4 288.4 L332.9 288.2 L333.4 288.3 L333.9 288.5 L334.4 288.7 L334.9 288.8 L335.4 288.9 L335.9 289.0 L336.4 289.1 L336.9 289.3 L337.4 289.2 L337.9 289.4 L338.4 289.5 L338.9 289.5 L339.4 289.6 L339.9 289.8 L340.4 289.8 L340.9 289.8 L341.4 289.9 L341.9 290.1 L342.4 290.2 L342.9 290.3 L343.4 290.3 L343.9 290.1 L344.4 290.2 L344.9 290.3 L345.4 290.3 L345.9 290.3 L346.4 290.4 L346.9 290.5 L347.4 290.6 L347.9 290.9 L348.4 291.0 L348.9 290.8 L349.4 290.8 L349.9 290.9 L350.4 291.0 L350.9 291.3 L351.4 291.5 L351.9 291.5 L352.4 291.6 L352.9 291.6 L353.4 291.6 L353.9 291.8 L354.4 291.9 L354.9 291.9 L355.4 291.9 L355.9 291.8 L356.4 291.9 L356.9 291.9 L357.4 292.1 L357.9 292.1 L358.4 292.2 L358.9 292.4 L359.4 292.5 L359.9 292.5 L360.4 292.6 L360.9 292.7 L361.4 293.0 L361.9 293.3 L362.4 293.5 L362.9 293.4 L363.4 293.3 L363.9 293.4 L364.4 293.3 L364.9 293.3 L365.4 293.3 L365.9 293.4 L366.4 293.4 L366.9 293.7 L367.4 293.9 L367.9 294.2 L368.4 294.1 L368.9 294.1 L369.4 294.1 L369.9 294.1 L370.4 294.1 L370.9 294.0 L371.4 294.0 L371.9 294.3 L372.4 294.4 L372.9 294.3 L373.4 294.3 L373.9 294.3 L374.4 294.5 L374.9 294.8 L375.4 294.9 L375.9 294.9 L376.4 294.8 L376.9 294.9 L377.4 294.9 L377.9 295.0 L378.4 294.9 L378.9 294.9 L379.4 295.0 L379.9 294.8 L380.4 294.8 L380.9 294.9 L381.4 295.1 L381.9 295.4 L382.4 295.5 L382.9 295.3 L383.4 295.4 L383.9 295.6 L384.4 295.6 L384.9 295.8 L385.4 296.0 L385.9 295.8 L386.4 295.8 L386.9 295.9 L387.4 296.0 L387.9 296.0 L388.4 296.2 L388.9 296.5 L389.4 296.7 L389.9 296.7 L390.4 296.9 L390.9 297.2 L391.4 297.4 L391.9 297.5 L392.4 297.3 L392.9 297.5 L393.4 297.6 L393.9 297.7 L394.4 297.9 L394.9 298.1 L395.4 298.3 L395.9 298.4 L396.4 298.5 L396.9 298.6 L397.4 298.7 L397.9 298.6 L398.4 298.6 L398.9 298.5 L399.4 298.5 L399.9 298.5 L400.4 298.5 L400.9 298.7 L401.4 298.9 L401.9 298.9 L402.4 298.8 L402.9 298.9 L403.4 298.8 L403.9 298.8 L404.4 298.9 L404.9 298.9 L405.4 298.9 L405.9 298.8 L406.4 298.8 L406.9 299.1 L407.4 299.2 L407.9 299.1 L408.4 298.9 L408.9 298.7 L409.4 298.8 L409.9 299.0 L410.4 299.2 L410.9 299.2 L411.4 299.3 L411.9 299.3 L412.4 299.3 L412.9 299.1 L413.4 298.9 L413.9 298.9 L414.4 298.9 L414.9 299.1 L415.4 299.2 L415.9 299.4 L416.4 299.4 L416.9 299.6 L417.4 299.6 L417.9 299.7 L418.4 299.6 L418.9 299.7 L419.4 299.8 L419.9 299.8 L420.4 299.7 L420.9 299.8 L421.4 299.8 L421.9 299.8 L422.4 299.7 L422.9 299.8 L423.4 300.0 L423.9 300.1 L424.4 300.2 L424.9 300.3 L425.4 300.4 L425.9 300.5 L426.4 300.4 L426.9 300.5 L427.4 300.7 L427.9 300.5 L428.4 300.8 L428.9 301.0 L429.4 301.2 L429.9 301.2 L430.4 301.2 L430.9 301.2 L431.4 301.5 L431.9 301.7 L432.4 301.6 L432.9 301.7 L433.4 301.8 L433.9 301.8 L434.4 301.9 L434.9 302.1 L435.4 302.1 L435.9 301.9 L436.4 302.1 L436.9 302.3 L437.4 302.3 L437.9 302.4 L438.4 302.3 L438.9 302.3 L439.4 302.5 L439.9 302.3 L440.4 302.3 L440.9 302.3 L441.4 302.3 L441.9 302.3 L442.4 302.4 L442.9 302.6 L443.4 302.5 L443.9 302.6 L444.4 302.3 L444.9 302.1 L445.4 302.2 L445.9 302.3 L446.4 302.3 L446.9 302.2 L447.4 302.2 L447.9 302.4 L448.4 302.6 L448.9 302.8 L449.4 302.7 L449.9 302.5 L450.4 302.4 L450.9 302.3 L451.4 302.1 L451.9 302.0 L452.4 302.0 L452.9 302.2 L453.4 302.3 L453.9 302.2 L454.4 302.2 L454.9 302.0 L455.4 301.8 L455.9 301.5 L456.4 301.2 L456.9 300.9 L457.4 300.6 L457.9 300.3 L458.4 300.0 L458.9 299.7 L459.4 299.7 L459.9 300.4 L460.4 301.0 L460.9 301.6 L461.4 302.4 L461.9 303.1 L462.4 303.8 L462.9 303.7 L463.4 304.0 L463.9 304.5 L464.4 304.8 L464.9 304.7 L465.4 304.9 L465.9 305.0 L466.4 304.9 L466.9 305.1 L467.4 304.9 L467.9 304.5 L468.4 304.3 L468.9 304.1 L469.4 303.7 L469.9 303.7 L470.4 303.8 L470.9 303.6 L471.4 303.4 L471.9 303.6 L472.4 303.7 L472.9 303.6 L473.4 303.2 L473.9 302.9 L474.4 303.2 L474.9 303.4 L475.4 303.4 L475.9 303.6 L476.4 303.8 L476.9 303.8 L477.4 303.8 L477.9 303.7 L478.4 303.3 L478.9 303.2 L479.4 303.5 L479.9 303.6 L480.4 303.6 L480.9 303.7 L481.4 303.8 L481.9 303.7 L482.4 303.9 L482.9 304.0 L483.4 303.6 L483.9 303.6 L484.4 303.3 L484.9 303.7 L485.4 304.1 L485.9 304.0 L486.4 304.0 L486.9 303.8 L487.4 303.9 L487.9 304.0 L488.4 304.0 L488.9 303.8 L489.4 304.0 L489.9 303.7 L490.4 303.8 L490.9 303.7 L491.4 304.0 L491.9 304.0 L492.4 303.9 L492.9 304.1 L493.4 304.3 L493.9 304.6 L494.4 304.3 L494.9 303.9 L495.4 304.3 L495.9 304.7 L496.4 304.5 L496.9 304.0 L497.4 304.0 L497.9 304.2 L498.4 304.2 L498.9 304.1 L499.4 304.0 L499.9 303.9 L500.4 303.7 L500.9 303.8 L501.4 304.0 L501.9 304.6 L502.4 304.5 L502.9 304.8 L503.4 304.7 L503.9 304.5 L504.4 304.3 L504.9 303.9 L505.4 304.3 L505.9 304.5 L506.4 304.1 L506.9 304.3 L507.4 304.4 L507.9 304.0 L508.4 304.2 L508.9 304.2 L509.4 304.6 L509.9 304.5 L510.4 304.0 L510.9 304.1 L511.4 304.2 L511.9 304.1 L512.4 303.6 L512.9 303.7 L513.4 304.0 L513.9 303.5 L514.4 303.1 L514.9 303.2 L515.4 303.3 L515.9 304.0 L516.4 304.0 L516.9 304.0 L517.4 304.0 L517.9 304.1 L518.4 304.1 L518.9 304.5 L519.4 304.5 L519.9 304.4 L520.4 304.9 L520.9 305.6"/><path stroke="#EABB00" d="M64.4 341.6 L64.9 340.1 L65.4 341.5 L65.9 340.2 L66.4 340.1 L66.9 339.0 L67.4 341.0 L67.9 341.3 L68.4 340.4 L68.9 342.2 L69.4 343.1 L69.9 342.6 L70.4 341.5 L70.9 342.0 L71.4 342.7 L71.9 341.9 L72.4 342.1 L72.9 341.7 L73.4 342.1 L73.9 342.5 L74.4 341.4 L74.9 341.6 L75.4 341.0 L75.9 340.7 L76.4 341.1 L76.9 340.7 L77.4 341.0 L77.9 340.9 L78.4 339.9 L78.9 340.0 L79.4 340.1 L79.9 339.8 L80.4 340.0 L80.9 338.7 L81.4 339.8 L81.9 339.6 L82.4 338.8 L82.9 337.7 L83.4 338.6 L83.9 338.1 L84.4 338.4 L84.9 337.7 L85.4 336.8 L85.9 336.2 L86.4 336.4 L86.9 336.5 L87.4 336.0 L87.9 335.4 L88.4 334.8 L88.9 334.6 L89.4 334.7 L89.9 334.2 L90.4 333.5 L90.9 333.3 L91.4 332.8 L91.9 332.4 L92.4 331.9 L92.9 331.4 L93.4 331.1 L93.9 330.4 L94.4 329.7 L94.9 329.2 L95.4 328.4 L95.9 327.9 L96.4 327.0 L96.9 326.6 L97.4 325.6 L97.9 325.1 L98.4 324.1 L98.9 322.9 L99.4 322.0 L99.9 320.9 L100.4 319.7 L100.9 318.4 L101.4 317.4 L101.9 316.4 L102.4 315.5 L102.9 314.8 L103.4 313.9 L103.9 312.7 L104.4 311.7 L104.9 310.8 L105.4 309.6 L105.9 308.3 L106.4 307.5 L106.9 306.7 L107.4 305.7 L107.9 304.6 L108.4 303.2 L108.9 301.8 L109.4 300.5 L109.9 299.5 L110.4 298.5 L110.9 297.2 L111.4 296.0 L111.9 295.0 L112.4 293.8 L112.9 292.6 L113.4 291.5 L113.9 290.0 L114.4 288.8 L114.9 287.6 L115.4 286.3 L115.9 285.1 L116.4 283.7 L116.9 282.3 L117.4 281.0 L117.9 279.9 L118.4 278.8 L118.9 277.9 L119.4 276.9 L119.9 276.0 L120.4 275.2 L120.9 274.2 L121.4 273.4 L121.9 272.6 L122.4 272.0 L122.9 271.2 L123.4 270.5 L123.9 269.9 L124.4 269.3 L124.9 268.5 L125.4 268.0 L125.9 267.7 L126.4 267.3 L126.9 267.0 L127.4 266.7 L127.9 266.4 L128.4 266.0 L128.9 265.9 L129.4 265.7 L129.9 265.3 L130.4 265.2 L130.9 265.2 L131.4 265.2 L131.9 265.1 L132.4 264.9 L132.9 265.0 L133.4 265.0 L133.9 264.9 L134.4 264.7 L134.9 264.5 L135.4 264.5 L135.9 264.5 L136.4 264.4 L136.9 264.2 L137.4 263.9 L137.9 263.8 L138.4 263.5 L138.9 263.3 L139.4 263.2 L139.9 263.4 L140.4 263.5 L140.9 263.2 L141.4 263.0 L141.9 262.9 L142.4 262.7 L142.9 262.7 L143.4 262.7 L143.9 262.6 L144.4 262.5 L144.9 262.3 L145.4 262.1 L145.9 262.0 L146.4 261.8 L146.9 261.6 L147.4 261.4 L147.9 261.3 L148.4 261.2 L148.9 260.9 L149.4 260.5 L149.9 260.1 L150.4 259.8 L150.9 259.7 L151.4 259.4 L151.9 259.2 L152.4 258.9 L152.9 258.8 L153.4 258.5 L153.9 258.2 L154.4 257.9 L154.9 258.0 L155.4 257.9 L155.9 257.7 L156.4 257.6 L156.9 257.8 L157.4 257.6 L157.9 257.5 L158.4 257.4 L158.9 257.3 L159.4 257.3 L159.9 257.1 L160.4 256.9 L160.9 256.7 L161.4 256.5 L161.9 256.5 L162.4 256.5 L162.9 256.4 L163.4 256.3 L163.9 256.1 L164.4 256.1 L164.9 256.1 L165.4 256.0 L165.9 255.9 L166.4 255.6 L166.9 255.3 L167.4 255.1 L167.9 255.3 L168.4 255.3 L168.9 255.5 L169.4 255.6 L169.9 255.5 L170.4 255.4 L170.9 255.5 L171.4 255.6 L171.9 255.5 L172.4 255.5 L172.9 255.5 L173.4 255.6 L173.9 255.6 L174.4 255.9 L174.9 256.0 L175.4 256.1 L175.9 256.0 L176.4 256.0 L176.9 256.0 L177.4 256.1 L177.9 256.2 L178.4 256.3 L178.9 256.5 L179.4 256.5 L179.9 256.6 L180.4 256.6 L180.9 256.6 L181.4 256.6 L181.9 256.6 L182.4 256.4 L182.9 256.4 L183.4 256.4 L183.9 256.5 L184.4 256.6 L184.9 256.8 L185.4 256.8 L185.9 256.9 L186.4 256.8 L186.9 256.7 L187.4 256.5 L187.9 256.5 L188.4 256.6 L188.9 256.8 L189.4 256.9 L189.9 257.0 L190.4 257.0 L190.9 257.0 L191.4 257.0 L191.9 257.1 L192.4 257.1 L192.9 256.9 L193.4 256.8 L193.9 256.7 L194.4 256.6 L194.9 256.6 L195.4 256.6 L195.9 256.5 L196.4 256.3 L196.9 256.1 L197.4 255.9 L197.9 255.6 L198.4 255.5 L198.9 255.5 L199.4 255.6 L199.9 255.7 L200.4 256.0 L200.9 256.0 L201.4 256.1 L201.9 256.2 L202.4 256.4 L202.9 256.5 L203.4 256.3 L203.9 256.1 L204.4 256.2 L204.9 256.1 L205.4 256.1 L205.9 256.0 L206.4 256.2 L206.9 256.2 L207.4 256.1 L207.9 255.8 L208.4 255.5 L208.9 255.1 L209.4 254.9 L209.9 254.9 L210.4 254.7 L210.9 254.7 L211.4 254.6 L211.9 254.5 L212.4 254.2 L212.9 254.0 L213.4 253.8 L213.9 253.7 L214.4 253.7 L214.9 253.6 L215.4 253.5 L215.9 253.4 L216.4 253.3 L216.9 253.2 L217.4 253.2 L217.9 253.1 L218.4 253.0 L218.9 252.8 L219.4 252.9 L219.9 252.8 L220.4 252.8 L220.9 252.7 L221.4 252.4 L221.9 252.2 L222.4 252.2 L222.9 252.1 L223.4 251.8 L223.9 251.5 L224.4 251.6 L224.9 251.7 L225.4 251.9 L225.9 251.8 L226.4 251.8 L226.9 251.6 L227.4 251.5 L227.9 251.4 L228.4 251.1 L228.9 250.8 L229.4 251.0 L229.9 251.4 L230.4 251.4 L230.9 251.4 L231.4 251.2 L231.9 251.2 L232.4 251.1 L232.9 251.1 L233.4 251.4 L233.9 251.4 L234.4 251.4 L234.9 251.5 L235.4 251.2 L235.9 250.9 L236.4 250.8 L236.9 250.4 L237.4 250.2 L237.9 249.9 L238.4 249.9 L238.9 249.9 L239.4 249.9 L239.9 249.8 L240.4 249.7 L240.9 249.5 L241.4 249.1 L241.9 249.0 L242.4 248.8 L242.9 248.8 L243.4 248.7 L243.9 248.6 L244.4 248.4 L244.9 248.5 L245.4 248.7 L245.9 248.7 L246.4 248.8 L246.9 248.8 L247.4 248.9 L247.9 248.8 L248.4 248.7 L248.9 248.6 L249.4 248.5 L249.9 248.3 L250.4 248.2 L250.9 248.2 L251.4 248.3 L251.9 248.1 L252.4 248.1 L252.9 248.2 L253.4 248.1 L253.9 248.3 L254.4 248.5 L254.9 248.5 L255.4 248.4 L255.9 248.3 L256.4 248.1 L256.9 247.8 L257.4 247.8 L257.9 248.0 L258.4 247.8 L258.9 247.6 L259.4 247.6 L259.9 247.6 L260.4 247.7 L260.9 247.8 L261.4 248.0 L261.9 248.0 L262.4 247.7 L262.9 247.7 L263.4 247.5 L263.9 247.7 L264.4 247.7 L264.9 247.7 L265.4 247.6 L265.9 247.6 L266.4 247.7 L266.9 247.6 L267.4 247.8 L267.9 247.9 L268.4 247.8 L268.9 247.9 L269.4 247.8 L269.9 248.0 L270.4 248.0 L270.9 248.1 L271.4 248.1 L271.9 247.9 L272.4 247.6 L272.9 247.5 L273.4 247.6 L273.9 247.7 L274.4 247.6 L274.9 247.6 L275.4 247.5 L275.9 247.5 L276.4 247.5 L276.9 247.5 L277.4 247.4 L277.9 247.4 L278.4 247.2 L278.9 247.2 L279.4 247.3 L279.9 247.3 L280.4 247.4 L280.9 247.4 L281.4 247.2 L281.9 247.2 L282.4 247.0 L282.9 246.9 L283.4 246.8 L283.9 246.8 L284.4 246.7 L284.9 246.6 L285.4 246.7 L285.9 246.9 L286.4 246.8 L286.9 246.7 L287.4 246.8 L287.9 246.6 L288.4 246.6 L288.9 246.5 L289.4 246.5 L289.9 246.4 L290.4 246.6 L290.9 246.6 L291.4 246.4 L291.9 246.4 L292.4 246.4 L292.9 246.1 L293.4 245.9 L293.9 246.0 L294.4 246.0 L294.9 246.1 L295.4 246.2 L295.9 246.3 L296.4 246.7 L296.9 246.9 L297.4 247.2 L297.9 247.6 L298.4 247.8 L298.9 247.8 L299.4 247.8 L299.9 247.9 L300.4 247.8 L300.9 247.9 L301.4 248.0 L301.9 248.0 L302.4 247.9 L302.9 247.9 L303.4 247.8 L303.9 247.6 L304.4 247.5 L304.9 247.9 L305.4 247.9 L305.9 247.8 L306.4 247.8 L306.9 247.9 L307.4 247.9 L307.9 247.9 L308.4 247.9 L308.9 247.8 L309.4 247.8 L309.9 248.0 L310.4 248.2 L310.9 248.4 L311.4 248.4 L311.9 248.5 L312.4 248.8 L312.9 248.9 L313.4 248.9 L313.9 249.0 L314.4 249.2 L314.9 249.5 L315.4 249.6 L315.9 249.6 L316.4 249.5 L316.9 249.5 L317.4 249.8 L317.9 250.3 L318.4 250.2 L318.9 250.0 L319.4 250.0 L319.9 250.0 L320.4 250.0 L320.9 250.1 L321.4 250.2 L321.9 250.4 L322.4 250.5 L322.9 250.5 L323.4 250.5 L323.9 250.8 L324.4 251.0 L324.9 251.2 L325.4 251.2 L325.9 251.2 L326.4 251.3 L326.9 251.3 L327.4 251.5 L327.9 251.5 L328.4 251.6 L328.9 251.6 L329.4 251.7 L329.9 252.0 L330.4 252.2 L330.9 252.2 L331.4 252.2 L331.9 252.1 L332.4 252.2 L332.9 252.3 L333.4 252.5 L333.9 252.7 L334.4 252.9 L334.9 253.0 L335.4 252.8 L335.9 252.9 L336.4 253.1 L336.9 253.2 L337.4 253.4 L337.9 253.3 L338.4 253.5 L338.9 253.5 L339.4 253.5 L339.9 253.5 L340.4 253.9 L340.9 254.1 L341.4 254.2 L341.9 254.2 L342.4 254.3 L342.9 254.5 L343.4 254.7 L343.9 254.8 L344.4 254.8 L344.9 254.7 L345.4 254.5 L345.9 254.6 L346.4 255.0 L346.9 255.2 L347.4 255.1 L347.9 255.2 L348.4 255.4 L348.9 255.4 L349.4 255.2 L349.9 255.3 L350.4 255.5 L350.9 255.8 L351.4 255.8 L351.9 256.0 L352.4 256.1 L352.9 256.1 L353.4 256.0 L353.9 256.0 L354.4 256.0 L354.9 256.2 L355.4 256.2 L355.9 256.4 L356.4 256.6 L356.9 256.8 L357.4 257.0 L357.9 257.3 L358.4 257.6 L358.9 257.6 L359.4 257.8 L359.9 258.0 L360.4 258.0 L360.9 258.0 L361.4 258.3 L361.9 258.4 L362.4 258.5 L362.9 258.6 L363.4 258.9 L363.9 258.9 L364.4 258.8 L364.9 258.8 L365.4 259.0 L365.9 259.2 L366.4 259.2 L366.9 259.2 L367.4 259.3 L367.9 259.4 L368.4 259.3 L368.9 259.3 L369.4 259.4 L369.9 259.5 L370.4 259.6 L370.9 259.6 L371.4 259.7 L371.9 259.8 L372.4 259.8 L372.9 259.8 L373.4 260.0 L373.9 259.9 L374.4 259.7 L374.9 259.7 L375.4 259.9 L375.9 260.0 L376.4 259.9 L376.9 260.1 L377.4 260.3 L377.9 260.4 L378.4 260.6 L378.9 260.6 L379.4 260.4 L379.9 260.4 L380.4 260.8 L380.9 260.6 L381.4 260.5 L381.9 260.7 L382.4 260.8 L382.9 261.0 L383.4 261.2 L383.9 261.3 L384.4 261.5 L384.9 261.4 L385.4 261.2 L385.9 261.2 L386.4 261.6 L386.9 261.8 L387.4 262.1 L387.9 262.2 L388.4 262.3 L388.9 262.3 L389.4 262.2 L389.9 262.2 L390.4 262.4 L390.9 262.8 L391.4 263.2 L391.9 263.1 L392.4 263.2 L392.9 263.3 L393.4 263.3 L393.9 263.4 L394.4 263.5 L394.9 263.3 L395.4 263.3 L395.9 263.5 L396.4 263.5 L396.9 263.6 L397.4 263.6 L397.9 263.7 L398.4 263.9 L398.9 264.0 L399.4 264.1 L399.9 264.3 L400.4 264.4 L400.9 264.2 L401.4 264.3 L401.9 264.5 L402.4 264.7 L402.9 264.9 L403.4 264.9 L403.9 265.0 L404.4 265.0 L404.9 265.1 L405.4 265.2 L405.9 265.4 L406.4 265.3 L406.9 265.2 L407.4 265.2 L407.9 265.2 L408.4 265.3 L408.9 265.5 L409.4 265.6 L409.9 265.5 L410.4 265.4 L410.9 265.3 L411.4 265.2 L411.9 265.2 L412.4 265.2 L412.9 265.3 L413.4 265.5 L413.9 265.4 L414.4 265.5 L414.9 265.6 L415.4 265.6 L415.9 265.4 L416.4 265.3 L416.9 265.3 L417.4 265.4 L417.9 265.4 L418.4 265.4 L418.9 265.4 L419.4 265.5 L419.9 265.8 L420.4 265.8 L420.9 265.9 L421.4 266.2 L421.9 266.2 L422.4 266.2 L422.9 266.5 L423.4 266.4 L423.9 266.5 L424.4 266.6 L424.9 266.8 L425.4 267.1 L425.9 267.2 L426.4 267.1 L426.9 267.0 L427.4 267.4 L427.9 267.6 L428.4 267.6 L428.9 267.8 L429.4 267.8 L429.9 267.7 L430.4 267.9 L430.9 268.0 L431.4 268.0 L431.9 268.2 L432.4 268.5 L432.9 268.7 L433.4 268.8 L433.9 268.8 L434.4 268.9 L434.9 268.9 L435.4 268.7 L435.9 268.6 L436.4 268.6 L436.9 268.4 L437.4 268.6 L437.9 268.8 L438.4 268.9 L438.9 269.2 L439.4 269.1 L439.9 269.0 L440.4 269.0 L440.9 268.9 L441.4 269.2 L441.9 269.5 L442.4 269.5 L442.9 269.4 L443.4 269.1 L443.9 269.1 L444.4 269.2 L444.9 269.1 L445.4 269.1 L445.9 269.3 L446.4 269.3 L446.9 269.3 L447.4 269.5 L447.9 269.7 L448.4 269.5 L448.9 269.4 L449.4 269.2 L449.9 269.3 L450.4 269.5 L450.9 269.4 L451.4 269.4 L451.9 269.3 L452.4 269.2 L452.9 269.1 L453.4 269.2 L453.9 269.4 L454.4 269.3 L454.9 269.0 L455.4 268.8 L455.9 268.5 L456.4 267.8 L456.9 267.4 L457.4 266.9 L457.9 266.8 L458.4 266.6 L458.9 266.5 L459.4 266.6 L459.9 267.0 L460.4 267.7 L460.9 268.9 L461.4 270.0 L461.9 271.1 L462.4 271.8 L462.9 272.2 L463.4 272.5 L463.9 272.8 L464.4 273.0 L464.9 273.1 L465.4 273.1 L465.9 273.0 L466.4 273.1 L466.9 272.9 L467.4 272.7 L467.9 272.2 L468.4 271.6 L468.9 271.5 L469.4 271.3 L469.9 271.0 L470.4 270.9 L470.9 271.1 L471.4 270.8 L471.9 270.6 L472.4 270.5 L472.9 270.4 L473.4 270.7 L473.9 270.4 L474.4 270.6 L474.9 270.8 L475.4 270.7 L475.9 270.5 L476.4 270.4 L476.9 270.3 L477.4 270.5 L477.9 270.1 L478.4 270.0 L478.9 269.9 L479.4 270.6 L479.9 270.9 L480.4 270.8 L480.9 270.6 L481.4 270.3 L481.9 270.7 L482.4 270.8 L482.9 271.3 L483.4 271.0 L483.9 271.1 L484.4 271.1 L484.9 270.8 L485.4 270.6 L485.9 270.5 L486.4 270.7 L486.9 270.5 L487.4 270.4 L487.9 270.8 L488.4 270.7 L488.9 270.5 L489.4 270.6 L489.9 270.9 L490.4 270.7 L490.9 270.5 L491.4 270.8 L491.9 270.9 L492.4 270.7 L492.9 271.0 L493.4 270.9 L493.9 270.3 L494.4 270.6 L494.9 270.8 L495.4 271.0 L495.9 270.8 L496.4 270.9 L496.9 270.7 L497.4 270.8 L497.9 271.0 L498.4 271.0 L498.9 271.2 L499.4 271.1 L499.9 270.9 L500.4 271.0 L500.9 271.1 L501.4 270.7 L501.9 270.8 L502.4 270.7 L502.9 270.6 L503.4 270.8 L503.9 270.5 L504.4 270.9 L504.9 271.1 L505.4 270.9 L505.9 270.6 L506.4 270.9 L506.9 271.1 L507.4 270.4 L507.9 270.0 L508.4 270.3 L508.9 270.6 L509.4 270.6 L509.9 270.2 L510.4 270.0 L510.9 269.9 L511.4 270.2 L511.9 270.4 L512.4 270.5 L512.9 270.8 L513.4 271.3 L513.9 271.5 L514.4 271.2 L514.9 271.2 L515.4 271.4 L515.9 271.5 L516.4 271.8 L516.9 271.8 L517.4 271.9 L517.9 272.1 L518.4 272.2 L518.9 271.9 L519.4 271.8 L519.9 272.1 L520.4 272.4 L520.9 272.4"/><path stroke="#0072BD" d="M64.4 337.3 L64.9 335.9 L65.4 339.0 L65.9 338.6 L66.4 335.6 L66.9 338.0 L67.4 337.8 L67.9 338.5 L68.4 336.9 L68.9 338.4 L69.4 337.0 L69.9 337.6 L70.4 338.2 L70.9 338.8 L71.4 337.8 L71.9 337.4 L72.4 337.9 L72.9 337.9 L73.4 336.7 L73.9 338.2 L74.4 338.6 L74.9 338.4 L75.4 337.7 L75.9 338.7 L76.4 337.4 L76.9 337.7 L77.4 337.5 L77.9 337.6 L78.4 336.7 L78.9 337.1 L79.4 336.9 L79.9 336.6 L80.4 335.7 L80.9 335.5 L81.4 336.0 L81.9 335.8 L82.4 335.8 L82.9 335.0 L83.4 335.3 L83.9 334.2 L84.4 334.6 L84.9 334.9 L85.4 334.5 L85.9 334.1 L86.4 333.6 L86.9 333.5 L87.4 333.3 L87.9 333.3 L88.4 332.3 L88.9 332.1 L89.4 331.8 L89.9 331.6 L90.4 330.8 L90.9 330.0 L91.4 329.8 L91.9 328.9 L92.4 327.6 L92.9 326.9 L93.4 326.0 L93.9 325.2 L94.4 324.4 L94.9 323.3 L95.4 322.6 L95.9 321.7 L96.4 320.5 L96.9 319.0 L97.4 317.9 L97.9 316.8 L98.4 315.2 L98.9 314.0 L99.4 312.9 L99.9 311.7 L100.4 310.3 L100.9 309.0 L101.4 307.7 L101.9 305.9 L102.4 304.1 L102.9 302.4 L103.4 300.6 L103.9 298.4 L104.4 296.3 L104.9 294.2 L105.4 291.8 L105.9 289.2 L106.4 286.7 L106.9 284.4 L107.4 282.0 L107.9 279.2 L108.4 276.1 L108.9 273.3 L109.4 270.6 L109.9 267.8 L110.4 264.9 L110.9 261.9 L111.4 258.5 L111.9 254.5 L112.4 250.2 L112.9 246.4 L113.4 242.8 L113.9 239.5 L114.4 236.6 L114.9 233.7 L115.4 230.8 L115.9 228.0 L116.4 225.2 L116.9 222.8 L117.4 220.3 L117.9 217.6 L118.4 214.6 L118.9 211.7 L119.4 208.9 L119.9 206.0 L120.4 203.0 L120.9 200.4 L121.4 197.9 L121.9 195.5 L122.4 193.0 L122.9 190.7 L123.4 188.6 L123.9 186.5 L124.4 185.0 L124.9 183.7 L125.4 182.5 L125.9 181.3 L126.4 180.5 L126.9 179.7 L127.4 178.9 L127.9 178.2 L128.4 177.3 L128.9 176.9 L129.4 176.6 L129.9 176.0 L130.4 175.6 L130.9 175.4 L131.4 174.9 L131.9 174.4 L132.4 174.2 L132.9 174.0 L133.4 173.8 L133.9 173.6 L134.4 173.1 L134.9 172.8 L135.4 172.7 L135.9 172.6 L136.4 172.6 L136.9 172.4 L137.4 172.1 L137.9 171.8 L138.4 171.9 L138.9 171.8 L139.4 171.8 L139.9 171.8 L140.4 171.6 L140.9 171.5 L141.4 171.5 L141.9 171.4 L142.4 171.5 L142.9 171.3 L143.4 171.1 L143.9 171.1 L144.4 171.0 L144.9 171.0 L145.4 171.0 L145.9 171.2 L146.4 171.3 L146.9 171.2 L147.4 171.0 L147.9 171.0 L148.4 171.2 L148.9 170.9 L149.4 170.4 L149.9 170.3 L150.4 170.5 L150.9 170.4 L151.4 170.5 L151.9 170.4 L152.4 170.1 L152.9 169.7 L153.4 169.3 L153.9 169.2 L154.4 169.1 L154.9 168.8 L155.4 168.7 L155.9 168.7 L156.4 168.5 L156.9 168.4 L157.4 168.3 L157.9 168.1 L158.4 168.0 L158.9 167.9 L159.4 167.5 L159.9 167.4 L160.4 167.0 L160.9 166.7 L161.4 166.6 L161.9 166.6 L162.4 166.3 L162.9 166.1 L163.4 166.1 L163.9 166.0 L164.4 166.0 L164.9 166.1 L165.4 166.0 L165.9 165.9 L166.4 165.7 L166.9 165.5 L167.4 165.5 L167.9 165.4 L168.4 165.4 L168.9 165.4 L169.4 165.3 L169.9 165.3 L170.4 165.5 L170.9 165.5 L171.4 165.7 L171.9 165.9 L172.4 165.8 L172.9 165.7 L173.4 165.8 L173.9 166.0 L174.4 166.2 L174.9 166.3 L175.4 166.4 L175.9 166.5 L176.4 166.5 L176.9 166.5 L177.4 166.4 L177.9 166.5 L178.4 166.4 L178.9 166.5 L179.4 166.7 L179.9 167.0 L180.4 167.3 L180.9 167.3 L181.4 167.1 L181.9 167.0 L182.4 167.0 L182.9 167.1 L183.4 167.1 L183.9 167.1 L184.4 167.2 L184.9 167.4 L185.4 167.6 L185.9 167.5 L186.4 167.4 L186.9 167.4 L187.4 167.4 L187.9 167.3 L188.4 167.4 L188.9 167.7 L189.4 167.7 L189.9 167.5 L190.4 167.5 L190.9 167.6 L191.4 167.7 L191.9 167.8 L192.4 167.7 L192.9 167.7 L193.4 167.8 L193.9 167.8 L194.4 167.8 L194.9 167.8 L195.4 167.8 L195.9 167.6 L196.4 167.1 L196.9 166.8 L197.4 166.5 L197.9 166.7 L198.4 166.7 L198.9 166.5 L199.4 166.6 L199.9 166.8 L200.4 167.1 L200.9 167.6 L201.4 167.6 L201.9 167.6 L202.4 167.7 L202.9 167.7 L203.4 167.6 L203.9 167.5 L204.4 167.6 L204.9 167.6 L205.4 167.3 L205.9 167.1 L206.4 166.8 L206.9 166.5 L207.4 166.4 L207.9 166.1 L208.4 165.7 L208.9 165.6 L209.4 165.5 L209.9 165.5 L210.4 165.5 L210.9 165.5 L211.4 165.1 L211.9 165.0 L212.4 164.9 L212.9 164.9 L213.4 164.8 L213.9 164.7 L214.4 164.5 L214.9 164.5 L215.4 164.4 L215.9 164.2 L216.4 164.1 L216.9 164.2 L217.4 164.1 L217.9 164.1 L218.4 164.0 L218.9 163.7 L219.4 163.8 L219.9 163.7 L220.4 163.6 L220.9 163.5 L221.4 163.5 L221.9 163.4 L222.4 163.2 L222.9 163.0 L223.4 162.9 L223.9 162.8 L224.4 162.7 L224.9 162.5 L225.4 162.3 L225.9 162.2 L226.4 162.1 L226.9 162.0 L227.4 162.1 L227.9 162.1 L228.4 162.3 L228.9 162.7 L229.4 163.1 L229.9 163.5 L230.4 163.8 L230.9 164.0 L231.4 164.1 L231.9 164.1 L232.4 163.9 L232.9 163.4 L233.4 163.3 L233.9 163.3 L234.4 163.0 L234.9 162.8 L235.4 162.7 L235.9 162.5 L236.4 162.3 L236.9 162.2 L237.4 162.2 L237.9 162.4 L238.4 162.5 L238.9 162.3 L239.4 162.1 L239.9 162.0 L240.4 162.1 L240.9 162.4 L241.4 162.2 L241.9 161.8 L242.4 161.6 L242.9 161.1 L243.4 160.7 L243.9 160.5 L244.4 160.5 L244.9 160.7 L245.4 160.7 L245.9 160.7 L246.4 160.8 L246.9 160.9 L247.4 160.8 L247.9 160.8 L248.4 160.9 L248.9 161.1 L249.4 161.0 L249.9 161.0 L250.4 161.2 L250.9 161.3 L251.4 161.1 L251.9 161.1 L252.4 161.0 L252.9 161.0 L253.4 160.9 L253.9 160.9 L254.4 161.0 L254.9 161.0 L255.4 160.8 L255.9 160.8 L256.4 160.6 L256.9 160.4 L257.4 160.4 L257.9 160.4 L258.4 160.4 L258.9 160.4 L259.4 160.5 L259.9 160.5 L260.4 160.5 L260.9 160.6 L261.4 160.5 L261.9 160.5 L262.4 160.4 L262.9 160.4 L263.4 160.3 L263.9 160.1 L264.4 159.9 L264.9 160.0 L265.4 160.0 L265.9 159.8 L266.4 159.9 L266.9 159.8 L267.4 159.7 L267.9 159.6 L268.4 159.6 L268.9 159.9 L269.4 160.1 L269.9 160.1 L270.4 160.0 L270.9 160.0 L271.4 160.1 L271.9 160.1 L272.4 160.1 L272.9 160.0 L273.4 159.8 L273.9 159.6 L274.4 159.3 L274.9 159.1 L275.4 158.9 L275.9 158.9 L276.4 158.6 L276.9 158.4 L277.4 158.2 L277.9 157.9 L278.4 157.8 L278.9 157.8 L279.4 157.8 L279.9 157.7 L280.4 157.4 L280.9 157.4 L281.4 157.4 L281.9 157.4 L282.4 157.4 L282.9 157.4 L283.4 157.3 L283.9 157.4 L284.4 157.3 L284.9 157.1 L285.4 157.1 L285.9 157.2 L286.4 157.1 L286.9 157.1 L287.4 156.8 L287.9 156.7 L288.4 156.6 L288.9 156.6 L289.4 156.3 L289.9 156.1 L290.4 156.1 L290.9 156.0 L291.4 156.0 L291.9 156.0 L292.4 156.1 L292.9 156.1 L293.4 156.1 L293.9 156.0 L294.4 156.0 L294.9 156.0 L295.4 156.0 L295.9 156.3 L296.4 156.5 L296.9 156.6 L297.4 157.0 L297.9 157.1 L298.4 157.1 L298.9 157.3 L299.4 157.4 L299.9 157.3 L300.4 157.3 L300.9 157.3 L301.4 157.4 L301.9 157.3 L302.4 157.3 L302.9 157.2 L303.4 157.2 L303.9 157.5 L304.4 157.5 L304.9 157.5 L305.4 157.5 L305.9 157.4 L306.4 157.4 L306.9 157.5 L307.4 157.5 L307.9 157.4 L308.4 157.8 L308.9 158.0 L309.4 158.0 L309.9 158.1 L310.4 158.1 L310.9 158.2 L311.4 158.2 L311.9 158.5 L312.4 158.7 L312.9 158.9 L313.4 159.0 L313.9 159.0 L314.4 159.2 L314.9 159.3 L315.4 159.4 L315.9 159.4 L316.4 159.6 L316.9 159.8 L317.4 159.9 L317.9 160.0 L318.4 160.2 L318.9 160.3 L319.4 160.3 L319.9 160.6 L320.4 160.9 L320.9 161.0 L321.4 160.7 L321.9 160.7 L322.4 160.8 L322.9 160.9 L323.4 160.9 L323.9 160.9 L324.4 160.9 L324.9 160.9 L325.4 161.0 L325.9 161.3 L326.4 161.6 L326.9 161.7 L327.4 161.7 L327.9 161.8 L328.4 161.6 L328.9 161.7 L329.4 161.8 L329.9 161.9 L330.4 162.0 L330.9 162.1 L331.4 162.2 L331.9 162.4 L332.4 162.4 L332.9 162.5 L333.4 162.7 L333.9 162.9 L334.4 163.1 L334.9 163.2 L335.4 163.4 L335.9 163.6 L336.4 163.8 L336.9 163.8 L337.4 164.2 L337.9 164.4 L338.4 164.7 L338.9 165.0 L339.4 165.0 L339.9 165.0 L340.4 165.2 L340.9 165.5 L341.4 165.6 L341.9 165.5 L342.4 165.6 L342.9 165.8 L343.4 165.9 L343.9 165.9 L344.4 165.9 L344.9 166.0 L345.4 166.1 L345.9 166.2 L346.4 166.3 L346.9 166.5 L347.4 166.7 L347.9 166.6 L348.4 166.6 L348.9 166.7 L349.4 166.9 L349.9 167.0 L350.4 167.2 L350.9 167.4 L351.4 167.6 L351.9 167.8 L352.4 167.8 L352.9 167.9 L353.4 168.1 L353.9 168.3 L354.4 168.4 L354.9 168.5 L355.4 168.9 L355.9 169.1 L356.4 169.2 L356.9 169.2 L357.4 169.4 L357.9 169.6 L358.4 169.7 L358.9 169.9 L359.4 170.0 L359.9 170.2 L360.4 170.5 L360.9 170.6 L361.4 171.0 L361.9 171.3 L362.4 171.4 L362.9 171.4 L363.4 171.3 L363.9 171.3 L364.4 171.7 L364.9 171.9 L365.4 172.1 L365.9 172.3 L366.4 172.4 L366.9 172.4 L367.4 172.4 L367.9 172.5 L368.4 172.6 L368.9 172.5 L369.4 172.3 L369.9 172.3 L370.4 172.4 L370.9 172.5 L371.4 172.7 L371.9 172.8 L372.4 172.9 L372.9 173.1 L373.4 173.1 L373.9 173.2 L374.4 173.3 L374.9 173.6 L375.4 173.7 L375.9 173.9 L376.4 174.0 L376.9 174.1 L377.4 174.0 L377.9 173.9 L378.4 174.0 L378.9 174.3 L379.4 174.4 L379.9 174.7 L380.4 174.9 L380.9 175.1 L381.4 175.2 L381.9 175.5 L382.4 175.7 L382.9 175.9 L383.4 176.0 L383.9 175.9 L384.4 175.7 L384.9 175.6 L385.4 175.7 L385.9 175.7 L386.4 175.7 L386.9 175.5 L387.4 175.5 L387.9 175.5 L388.4 175.3 L388.9 175.3 L389.4 175.5 L389.9 175.9 L390.4 176.3 L390.9 176.7 L391.4 177.2 L391.9 177.7 L392.4 177.8 L392.9 178.1 L393.4 178.4 L393.9 178.4 L394.4 178.4 L394.9 178.5 L395.4 178.4 L395.9 178.3 L396.4 178.4 L396.9 178.4 L397.4 178.4 L397.9 178.4 L398.4 178.5 L398.9 178.4 L399.4 178.5 L399.9 178.6 L400.4 178.3 L400.9 178.6 L401.4 178.9 L401.9 179.0 L402.4 178.9 L402.9 178.6 L403.4 178.7 L403.9 178.8 L404.4 179.0 L404.9 179.2 L405.4 179.4 L405.9 179.4 L406.4 179.4 L406.9 179.5 L407.4 179.5 L407.9 179.7 L408.4 179.9 L408.9 180.2 L409.4 180.5 L409.9 180.8 L410.4 180.8 L410.9 181.0 L411.4 181.0 L411.9 181.0 L412.4 180.9 L412.9 181.1 L413.4 181.0 L413.9 180.8 L414.4 180.7 L414.9 180.7 L415.4 180.5 L415.9 180.4 L416.4 180.3 L416.9 180.2 L417.4 180.2 L417.9 180.2 L418.4 180.3 L418.9 180.4 L419.4 180.6 L419.9 180.9 L420.4 181.7 L420.9 182.0 L421.4 182.2 L421.9 182.4 L422.4 182.5 L422.9 182.6 L423.4 182.6 L423.9 182.5 L424.4 182.3 L424.9 182.3 L425.4 182.2 L425.9 182.2 L426.4 182.0 L426.9 181.9 L427.4 182.3 L427.9 182.6 L428.4 183.0 L428.9 183.5 L429.4 184.0 L429.9 184.3 L430.4 184.2 L430.9 184.2 L431.4 184.2 L431.9 184.2 L432.4 184.2 L432.9 184.4 L433.4 184.7 L433.9 184.8 L434.4 184.8 L434.9 184.8 L435.4 185.0 L435.9 185.1 L436.4 185.1 L436.9 185.0 L437.4 185.1 L437.9 185.1 L438.4 185.4 L438.9 185.7 L439.4 185.7 L439.9 185.5 L440.4 185.6 L440.9 185.7 L441.4 185.7 L441.9 185.7 L442.4 185.6 L442.9 185.6 L443.4 185.6 L443.9 185.5 L444.4 185.5 L444.9 185.2 L445.4 185.0 L445.9 184.8 L446.4 184.8 L446.9 184.6 L447.4 184.4 L447.9 184.4 L448.4 184.4 L448.9 184.6 L449.4 184.8 L449.9 185.1 L450.4 185.4 L450.9 185.2 L451.4 185.3 L451.9 185.6 L452.4 185.7 L452.9 185.5 L453.4 185.7 L453.9 185.7 L454.4 185.8 L454.9 185.7 L455.4 185.4 L455.9 184.9 L456.4 184.5 L456.9 184.1 L457.4 183.4 L457.9 182.8 L458.4 182.5 L458.9 182.1 L459.4 181.9 L459.9 182.1 L460.4 183.0 L460.9 184.2 L461.4 185.7 L461.9 186.9 L462.4 188.2 L462.9 189.8 L463.4 191.4 L463.9 192.3 L464.4 192.1 L464.9 191.9 L465.4 191.5 L465.9 191.0 L466.4 190.4 L466.9 189.6 L467.4 189.2 L467.9 188.5 L468.4 187.9 L468.9 187.9 L469.4 187.7 L469.9 187.3 L470.4 187.2 L470.9 187.1 L471.4 187.0 L471.9 186.9 L472.4 186.9 L472.9 186.8 L473.4 186.8 L473.9 186.8 L474.4 186.7 L474.9 186.5 L475.4 186.7 L475.9 186.4 L476.4 186.5 L476.9 186.3 L477.4 186.3 L477.9 186.2 L478.4 186.3 L478.9 186.6 L479.4 186.4 L479.9 186.1 L480.4 186.2 L480.9 185.9 L481.4 185.7 L481.9 185.9 L482.4 186.1 L482.9 185.8 L483.4 185.8 L483.9 185.5 L484.4 185.6 L484.9 185.9 L485.4 186.0 L485.9 185.7 L486.4 185.5 L486.9 185.7 L487.4 185.6 L487.9 185.8 L488.4 185.9 L488.9 185.7 L489.4 185.7 L489.9 186.0 L490.4 186.3 L490.9 186.1 L491.4 186.3 L491.9 186.0 L492.4 186.0 L492.9 186.1 L493.4 186.0 L493.9 185.8 L494.4 186.1 L494.9 186.4 L495.4 186.3 L495.9 186.3 L496.4 186.5 L496.9 186.4 L497.4 186.2 L497.9 186.1 L498.4 186.2 L498.9 185.7 L499.4 186.0 L499.9 185.9 L500.4 185.7 L500.9 185.9 L501.4 186.3 L501.9 186.3 L502.4 186.1 L502.9 185.7 L503.4 186.0 L503.9 186.3 L504.4 185.9 L504.9 185.8 L505.4 185.7 L505.9 185.6 L506.4 185.1 L506.9 185.1 L507.4 185.5 L507.9 185.3 L508.4 185.5 L508.9 185.3 L509.4 185.2 L509.9 184.8 L510.4 184.8 L510.9 184.9 L511.4 184.9 L511.9 184.6 L512.4 184.9 L512.9 185.3 L513.4 185.1 L513.9 185.1 L514.4 185.1 L514.9 185.0 L515.4 185.1 L515.9 185.6 L516.4 186.0 L516.9 186.2 L517.4 186.1 L517.9 186.5 L518.4 186.5 L518.9 186.4 L519.4 186.3 L519.9 186.4 L520.4 186.4 L520.9 187.1 L521.4 187.4"/><path stroke="#000000" stroke-width="2.0" d="M64.4 322.8 L64.9 325.2 L65.4 326.6 L65.9 327.6 L66.4 328.9 L66.9 328.5 L67.4 330.2 L67.9 329.4 L68.4 330.0 L68.9 329.1 L69.4 328.7 L69.9 328.9 L70.4 329.4 L70.9 330.1 L71.4 331.9 L71.9 332.1 L72.4 330.6 L72.9 329.6 L73.4 330.2 L73.9 330.2 L74.4 330.5 L74.9 330.6 L75.4 331.1 L75.9 331.5 L76.4 330.2 L76.9 329.1 L77.4 329.3 L77.9 329.4 L78.4 329.4 L78.9 328.1 L79.4 327.7 L79.9 327.1 L80.4 327.6 L80.9 327.7 L81.4 327.1 L81.9 327.1 L82.4 326.5 L82.9 326.0 L83.4 325.5 L83.9 325.1 L84.4 324.9 L84.9 324.2 L85.4 323.7 L85.9 323.1 L86.4 322.5 L86.9 322.0 L87.4 321.6 L87.9 320.9 L88.4 320.4 L88.9 319.9 L89.4 319.4 L89.9 318.2 L90.4 317.4 L90.9 317.1 L91.4 316.0 L91.9 315.1 L92.4 314.3 L92.9 313.3 L93.4 311.9 L93.9 310.6 L94.4 309.6 L94.9 308.9 L95.4 308.2 L95.9 307.1 L96.4 305.9 L96.9 305.2 L97.4 304.3 L97.9 303.1 L98.4 301.8 L98.9 300.6 L99.4 299.3 L99.9 297.7 L100.4 295.9 L100.9 294.1 L101.4 292.2 L101.9 290.0 L102.4 288.0 L102.9 285.6 L103.4 283.2 L103.9 280.6 L104.4 277.3 L104.9 274.1 L105.4 271.0 L105.9 268.1 L106.4 265.3 L106.9 262.5 L107.4 259.2 L107.9 254.8 L108.4 248.2 L108.9 242.8 L109.4 238.4 L109.9 233.8 L110.4 229.7 L110.9 226.1 L111.4 222.5 L111.9 218.9 L112.4 215.2 L112.9 211.4 L113.4 207.1 L113.9 202.1 L114.4 196.5 L114.9 190.1 L115.4 182.9 L115.9 175.6 L116.4 168.8 L116.9 162.2 L117.4 155.8 L117.9 149.7 L118.4 144.2 L118.9 138.6 L119.4 133.5 L119.9 128.3 L120.4 123.3 L120.9 118.7 L121.4 113.8 L121.9 109.1 L122.4 104.6 L122.9 99.7 L123.4 95.1 L123.9 91.0 L124.4 87.3 L124.9 84.7 L125.4 82.3 L125.9 79.8 L126.4 77.4 L126.9 74.8 L127.4 72.3 L127.9 70.3 L128.4 68.5 L128.9 66.6 L129.4 64.9 L129.9 63.2 L130.4 61.8 L130.9 60.6 L131.4 59.4 L131.9 58.3 L132.4 57.4 L132.9 56.8 L133.4 56.2 L133.9 55.8 L134.4 55.4 L134.9 55.0 L135.4 54.7 L135.9 54.1 L136.4 53.7 L136.9 53.4 L137.4 52.9 L137.9 52.5 L138.4 52.4 L138.9 52.2 L139.4 52.1 L139.9 52.0 L140.4 51.9 L140.9 51.7 L141.4 51.4 L141.9 51.2 L142.4 51.0 L142.9 51.0 L143.4 50.9 L143.9 50.8 L144.4 50.8 L144.9 50.7 L145.4 50.1 L145.9 49.8 L146.4 49.6 L146.9 49.6 L147.4 49.5 L147.9 49.2 L148.4 49.3 L148.9 49.2 L149.4 49.2 L149.9 49.5 L150.4 49.4 L150.9 49.2 L151.4 49.0 L151.9 48.6 L152.4 48.3 L152.9 48.1 L153.4 47.8 L153.9 47.4 L154.4 47.2 L154.9 47.0 L155.4 46.6 L155.9 46.4 L156.4 46.2 L156.9 46.0 L157.4 45.9 L157.9 45.7 L158.4 45.5 L158.9 45.3 L159.4 45.1 L159.9 44.7 L160.4 44.4 L160.9 44.1 L161.4 43.8 L161.9 43.8 L162.4 43.8 L162.9 43.6 L163.4 43.4 L163.9 43.2 L164.4 43.2 L164.9 43.1 L165.4 43.0 L165.9 42.7 L166.4 42.4 L166.9 42.2 L167.4 42.1 L167.9 42.2 L168.4 42.2 L168.9 42.1 L169.4 42.1 L169.9 42.0 L170.4 42.0 L170.9 41.8 L171.4 41.9 L171.9 41.8 L172.4 41.6 L172.9 41.5 L173.4 41.6 L173.9 42.0 L174.4 42.2 L174.9 42.3 L175.4 42.2 L175.9 42.3 L176.4 42.2 L176.9 42.2 L177.4 42.4 L177.9 42.4 L178.4 42.4 L178.9 42.4 L179.4 42.7 L179.9 42.8 L180.4 42.9 L180.9 43.1 L181.4 43.3 L181.9 43.3 L182.4 43.3 L182.9 43.2 L183.4 43.3 L183.9 43.4 L184.4 43.3 L184.9 43.1 L185.4 43.3 L185.9 43.2 L186.4 43.4 L186.9 43.4 L187.4 43.4 L187.9 43.4 L188.4 43.2 L188.9 43.4 L189.4 43.6 L189.9 43.6 L190.4 43.6 L190.9 43.9 L191.4 44.1 L191.9 44.0 L192.4 44.0 L192.9 43.9 L193.4 43.6 L193.9 43.1 L194.4 42.8 L194.9 42.7 L195.4 42.1 L195.9 41.5 L196.4 41.0 L196.9 40.8 L197.4 40.8 L197.9 40.7 L198.4 40.7 L198.9 40.9 L199.4 41.2 L199.9 41.7 L200.4 42.1 L200.9 42.7 L201.4 42.6 L201.9 42.4 L202.4 42.1 L202.9 41.8 L203.4 41.6 L203.9 41.3 L204.4 40.9 L204.9 40.7 L205.4 40.5 L205.9 40.1 L206.4 39.7 L206.9 39.3 L207.4 39.0 L207.9 38.8 L208.4 38.4 L208.9 38.1 L209.4 38.0 L209.9 37.8 L210.4 37.8 L210.9 37.7 L211.4 37.7 L211.9 37.7 L212.4 37.6 L212.9 37.3 L213.4 37.3 L213.9 37.3 L214.4 37.2 L214.9 37.2 L215.4 37.3 L215.9 37.2 L216.4 37.3 L216.9 37.2 L217.4 37.0 L217.9 36.8 L218.4 36.7 L218.9 36.7 L219.4 36.7 L219.9 36.5 L220.4 36.2 L220.9 36.0 L221.4 35.9 L221.9 35.9 L222.4 35.9 L222.9 35.7 L223.4 35.4 L223.9 35.0 L224.4 34.8 L224.9 34.6 L225.4 34.4 L225.9 34.4 L226.4 34.3 L226.9 34.4 L227.4 34.5 L227.9 34.7 L228.4 34.7 L228.9 34.8 L229.4 35.0 L229.9 35.1 L230.4 35.4 L230.9 35.7 L231.4 35.9 L231.9 36.0 L232.4 36.0 L232.9 36.0 L233.4 35.8 L233.9 35.6 L234.4 35.4 L234.9 35.1 L235.4 35.1 L235.9 34.8 L236.4 34.6 L236.9 34.4 L237.4 34.2 L237.9 34.2 L238.4 33.9 L238.9 33.7 L239.4 33.6 L239.9 33.6 L240.4 33.3 L240.9 32.9 L241.4 32.7 L241.9 32.2 L242.4 31.8 L242.9 31.7 L243.4 31.6 L243.9 31.7 L244.4 31.7 L244.9 31.5 L245.4 31.3 L245.9 31.5 L246.4 31.5 L246.9 31.4 L247.4 31.3 L247.9 31.2 L248.4 31.3 L248.9 31.3 L249.4 31.5 L249.9 31.5 L250.4 31.8 L250.9 32.0 L251.4 32.2 L251.9 32.2 L252.4 32.2 L252.9 32.4 L253.4 32.3 L253.9 32.4 L254.4 32.4 L254.9 32.2 L255.4 32.0 L255.9 31.8 L256.4 31.4 L256.9 31.0 L257.4 30.9 L257.9 30.7 L258.4 30.5 L258.9 30.4 L259.4 30.5 L259.9 30.5 L260.4 30.3 L260.9 30.3 L261.4 30.2 L261.9 30.2 L262.4 30.2 L262.9 30.4 L263.4 30.4 L263.9 30.5 L264.4 30.6 L264.9 30.5 L265.4 30.5 L265.9 30.6 L266.4 30.7 L266.9 30.8 L267.4 31.0 L267.9 30.9 L268.4 30.9 L268.9 30.9 L269.4 30.8 L269.9 30.8 L270.4 30.6 L270.9 30.6 L271.4 30.5 L271.9 30.3 L272.4 30.2 L272.9 30.1 L273.4 30.0 L273.9 29.9 L274.4 29.6 L274.9 29.2 L275.4 28.7 L275.9 28.4 L276.4 28.3 L276.9 28.3 L277.4 28.0 L277.9 28.0 L278.4 27.8 L278.9 27.7 L279.4 27.4 L279.9 27.3 L280.4 27.2 L280.9 27.1 L281.4 27.0 L281.9 26.9 L282.4 26.8 L282.9 26.7 L283.4 26.5 L283.9 26.2 L284.4 26.2 L284.9 26.1 L285.4 25.7 L285.9 25.5 L286.4 25.7 L286.9 25.9 L287.4 25.9 L287.9 26.1 L288.4 26.2 L288.9 26.2 L289.4 26.3 L289.9 26.4 L290.4 26.3 L290.9 25.9 L291.4 25.5 L291.9 25.4 L292.4 25.0 L292.9 24.6 L293.4 24.4 L293.9 24.2 L294.4 24.1 L294.9 24.3 L295.4 24.3 L295.9 24.1 L296.4 24.4 L296.9 24.7 L297.4 25.2 L297.9 25.7 L298.4 26.0 L298.9 26.2 L299.4 26.2 L299.9 26.4 L300.4 26.3 L300.9 26.4 L301.4 26.3 L301.9 26.1 L302.4 26.0 L302.9 26.0 L303.4 26.1 L303.9 26.2 L304.4 26.1 L304.9 26.1 L305.4 26.0 L305.9 26.0 L306.4 25.9 L306.9 26.1 L307.4 26.3 L307.9 26.4 L308.4 26.5 L308.9 26.6 L309.4 26.4 L309.9 26.2 L310.4 26.3 L310.9 26.4 L311.4 26.7 L311.9 27.0 L312.4 27.2 L312.9 27.3 L313.4 27.4 L313.9 27.5 L314.4 27.9 L314.9 28.1 L315.4 28.1 L315.9 28.2 L316.4 28.5 L316.9 28.6 L317.4 28.6 L317.9 28.6 L318.4 28.7 L318.9 28.8 L319.4 28.8 L319.9 29.0 L320.4 29.3 L320.9 29.4 L321.4 29.5 L321.9 29.5 L322.4 29.3 L322.9 29.2 L323.4 29.3 L323.9 29.5 L324.4 29.7 L324.9 29.8 L325.4 30.0 L325.9 30.0 L326.4 30.3 L326.9 30.4 L327.4 30.7 L327.9 30.8 L328.4 30.9 L328.9 30.9 L329.4 31.1 L329.9 31.1 L330.4 31.3 L330.9 31.6 L331.4 32.0 L331.9 32.2 L332.4 32.4 L332.9 32.6 L333.4 32.7 L333.9 32.8 L334.4 33.0 L334.9 33.5 L335.4 33.8 L335.9 33.8 L336.4 33.9 L336.9 34.1 L337.4 34.2 L337.9 34.2 L338.4 34.4 L338.9 34.6 L339.4 34.8 L339.9 35.0 L340.4 35.1 L340.9 35.1 L341.4 35.2 L341.9 35.3 L342.4 35.6 L342.9 35.8 L343.4 35.9 L343.9 36.1 L344.4 36.1 L344.9 36.1 L345.4 36.3 L345.9 36.2 L346.4 36.2 L346.9 36.2 L347.4 36.2 L347.9 36.3 L348.4 36.5 L348.9 36.7 L349.4 36.8 L349.9 36.8 L350.4 37.0 L350.9 37.4 L351.4 37.8 L351.9 38.0 L352.4 38.0 L352.9 38.0 L353.4 38.2 L353.9 38.5 L354.4 38.7 L354.9 38.9 L355.4 39.1 L355.9 39.6 L356.4 39.9 L356.9 40.2 L357.4 40.2 L357.9 40.2 L358.4 40.2 L358.9 40.4 L359.4 40.7 L359.9 40.9 L360.4 40.9 L360.9 41.0 L361.4 41.2 L361.9 41.5 L362.4 41.6 L362.9 41.8 L363.4 42.1 L363.9 42.3 L364.4 42.4 L364.9 42.4 L365.4 42.6 L365.9 42.6 L366.4 42.8 L366.9 43.0 L367.4 43.1 L367.9 43.3 L368.4 43.3 L368.9 43.4 L369.4 43.4 L369.9 43.4 L370.4 43.5 L370.9 43.7 L371.4 43.9 L371.9 43.8 L372.4 43.7 L372.9 43.8 L373.4 43.8 L373.9 44.0 L374.4 44.2 L374.9 44.1 L375.4 44.3 L375.9 44.5 L376.4 44.6 L376.9 44.7 L377.4 44.7 L377.9 44.7 L378.4 44.7 L378.9 44.6 L379.4 44.8 L379.9 45.1 L380.4 45.3 L380.9 45.5 L381.4 45.5 L381.9 45.4 L382.4 45.5 L382.9 45.7 L383.4 45.7 L383.9 45.8 L384.4 45.9 L384.9 45.9 L385.4 46.0 L385.9 46.1 L386.4 46.2 L386.9 46.4 L387.4 46.7 L387.9 47.0 L388.4 47.1 L388.9 47.4 L389.4 47.8 L389.9 48.3 L390.4 48.7 L390.9 49.2 L391.4 49.6 L391.9 50.3 L392.4 50.7 L392.9 50.6 L393.4 50.8 L393.9 50.8 L394.4 50.6 L394.9 50.3 L395.4 50.2 L395.9 50.3 L396.4 50.5 L396.9 50.5 L397.4 50.6 L397.9 50.5 L398.4 50.4 L398.9 50.6 L399.4 50.6 L399.9 50.7 L400.4 50.8 L400.9 51.0 L401.4 51.2 L401.9 51.2 L402.4 51.1 L402.9 51.2 L403.4 51.4 L403.9 51.7 L404.4 51.9 L404.9 52.0 L405.4 52.1 L405.9 52.3 L406.4 52.7 L406.9 53.0 L407.4 53.4 L407.9 53.3 L408.4 53.1 L408.9 53.2 L409.4 53.3 L409.9 53.2 L410.4 53.2 L410.9 53.4 L411.4 53.7 L411.9 53.7 L412.4 53.6 L412.9 53.6 L413.4 53.5 L413.9 53.3 L414.4 53.2 L414.9 53.0 L415.4 52.9 L415.9 53.0 L416.4 53.0 L416.9 52.7 L417.4 52.7 L417.9 52.8 L418.4 52.9 L418.9 53.1 L419.4 53.5 L419.9 54.0 L420.4 54.4 L420.9 54.8 L421.4 55.1 L421.9 55.7 L422.4 55.7 L422.9 55.8 L423.4 56.0 L423.9 56.3 L424.4 56.6 L424.9 56.9 L425.4 56.9 L425.9 57.0 L426.4 57.4 L426.9 57.6 L427.4 57.9 L427.9 58.3 L428.4 58.5 L428.9 58.6 L429.4 58.6 L429.9 58.8 L430.4 58.8 L430.9 59.1 L431.4 59.4 L431.9 59.5 L432.4 59.7 L432.9 59.7 L433.4 59.8 L433.9 59.8 L434.4 60.0 L434.9 60.0 L435.4 60.0 L435.9 59.8 L436.4 60.0 L436.9 59.9 L437.4 59.8 L437.9 59.7 L438.4 59.9 L438.9 60.1 L439.4 60.3 L439.9 60.1 L440.4 60.1 L440.9 60.4 L441.4 60.5 L441.9 60.5 L442.4 60.2 L442.9 60.0 L443.4 59.9 L443.9 60.0 L444.4 60.1 L444.9 59.9 L445.4 59.8 L445.9 59.7 L446.4 59.7 L446.9 59.6 L447.4 59.5 L447.9 59.5 L448.4 59.4 L448.9 59.3 L449.4 59.2 L449.9 59.2 L450.4 59.4 L450.9 59.6 L451.4 59.8 L451.9 60.0 L452.4 60.3 L452.9 60.4 L453.4 60.6 L453.9 60.9 L454.4 61.0 L454.9 60.8 L455.4 60.8 L455.9 60.8 L456.4 60.4 L456.9 59.7 L457.4 59.1 L457.9 58.7 L458.4 58.6 L458.9 58.6 L459.4 58.7 L459.9 58.7 L460.4 59.1 L460.9 59.8 L461.4 61.4 L461.9 63.4 L462.4 65.8 L462.9 69.2 L463.4 70.1 L463.9 70.0 L464.4 69.5 L464.9 68.7 L465.4 67.2 L465.9 65.8 L466.4 64.5 L466.9 63.8 L467.4 63.4 L467.9 63.2 L468.4 62.8 L468.9 62.6 L469.4 62.6 L469.9 62.3 L470.4 62.1 L470.9 61.9 L471.4 62.0 L471.9 62.2 L472.4 62.2 L472.9 62.3 L473.4 62.3 L473.9 62.7 L474.4 62.8 L474.9 62.7 L475.4 62.5 L475.9 62.8 L476.4 63.0 L476.9 63.2 L477.4 63.2 L477.9 63.6 L478.4 64.0 L478.9 63.8 L479.4 63.8 L479.9 63.6 L480.4 63.4 L480.9 63.1 L481.4 62.7 L481.9 62.5 L482.4 62.6 L482.9 62.4 L483.4 62.2 L483.9 61.9 L484.4 61.9 L484.9 61.4 L485.4 61.2 L485.9 61.4 L486.4 61.8 L486.9 61.3 L487.4 61.3 L487.9 61.1 L488.4 60.8 L488.9 60.6 L489.4 60.8 L489.9 61.0 L490.4 60.8 L490.9 60.6 L491.4 60.8 L491.9 61.1 L492.4 61.4 L492.9 61.6 L493.4 61.8 L493.9 61.7 L494.4 61.6 L494.9 61.8 L495.4 62.2 L495.9 62.2 L496.4 62.2 L496.9 62.3 L497.4 62.9 L497.9 63.3 L498.4 63.3 L498.9 62.8 L499.4 62.7 L499.9 62.9 L500.4 62.5 L500.9 62.5 L501.4 62.5 L501.9 62.3 L502.4 62.2 L502.9 62.2 L503.4 61.9 L503.9 61.1 L504.4 61.5 L504.9 61.2 L505.4 61.0 L505.9 61.1 L506.4 60.9 L506.9 60.4 L507.4 60.3 L507.9 60.3 L508.4 59.9 L508.9 59.6 L509.4 59.5 L509.9 59.1 L510.4 59.1 L510.9 58.7 L511.4 58.2 L511.9 58.5 L512.4 59.2 L512.9 59.1 L513.4 59.0 L513.9 59.3 L514.4 59.4 L514.9 59.5 L515.4 59.4 L515.9 59.7 L516.4 60.1 L516.9 60.5 L517.4 60.1 L517.9 60.1 L518.4 60.2 L518.9 60.1 L519.4 60.3 L519.9 60.4 L520.4 60.3 L520.9 60.5"/></g><rect x="41.5" y="7.0" width="503.0" height="374.45" fill="none" stroke="#aaaaaa" stroke-width="1.3"/><g stroke="#000" stroke-width="1.4"><line x1="124.10" y1="381.45" x2="124.10" y2="376.25"/><line x1="218.67" y1="381.45" x2="218.67" y2="376.25"/><line x1="313.25" y1="381.45" x2="313.25" y2="376.25"/><line x1="407.82" y1="381.45" x2="407.82" y2="376.25"/><line x1="502.40" y1="381.45" x2="502.40" y2="376.25"/><line x1="41.5" y1="322.66" x2="46.8" y2="322.66"/><line x1="41.5" y1="246.99" x2="46.8" y2="246.99"/><line x1="41.5" y1="171.31" x2="46.8" y2="171.31"/><line x1="41.5" y1="95.63" x2="46.8" y2="95.63"/><line x1="41.5" y1="19.96" x2="46.8" y2="19.96"/></g><g font-family="DejaVu Serif, Liberation Serif, serif" font-size="9.8px" fill="#000" stroke="#000" stroke-width="0.3"><text x="124.10" y="393.9" text-anchor="middle">400</text><text x="218.67" y="393.9" text-anchor="middle">500</text><text x="313.25" y="393.9" text-anchor="middle">600</text><text x="407.82" y="393.9" text-anchor="middle">700</text><text x="502.40" y="393.9" text-anchor="middle">800</text><text x="36.9" y="326.56" text-anchor="end">10</text><text x="36.9" y="250.89" text-anchor="end">20</text><text x="36.9" y="175.21" text-anchor="end">30</text><text x="36.9" y="99.53" text-anchor="end">40</text><text x="36.9" y="23.86" text-anchor="end">50</text></g><text x="292.6" y="411.6" text-anchor="middle" font-family="DejaVu Serif, Liberation Serif, serif" font-size="13.45px" fill="#000" stroke="#000" stroke-width="0.3">Wavelength (nm)</text><text transform="translate(16.4 194.5) rotate(-90)" text-anchor="middle" font-family="DejaVu Serif, Liberation Serif, serif" font-size="13.45px" fill="#000" stroke="#000" stroke-width="0.3">Reflectance (%)</text></svg>
</body></html>
